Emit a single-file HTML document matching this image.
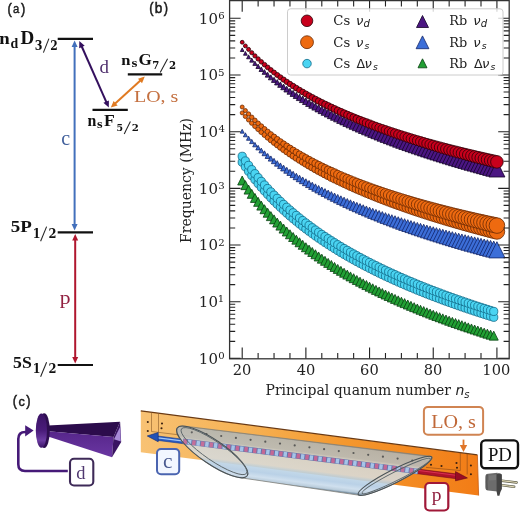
<!DOCTYPE html><html><head><meta charset="utf-8"><style>html,body{margin:0;padding:0;background:#fff;}svg{display:block}</style></head><body>
<svg width="520" height="512" viewBox="0 0 520 512">
<rect width="520" height="512" fill="#fff"/>
<defs><clipPath id="pc"><rect x="229.6" y="0.6" width="279.6" height="358.2"/></clipPath></defs>
<g clip-path="url(#pc)">
<path d="M242.20,47.93L244.00,51.53L240.40,51.53Z" fill="#4b1682" stroke="#140428" stroke-width="0.8"/>
<path d="M245.38,51.48L247.26,55.23L243.51,55.23Z" fill="#4b1682" stroke="#140428" stroke-width="0.8"/>
<path d="M248.57,54.86L250.52,58.77L246.61,58.77Z" fill="#4b1682" stroke="#140428" stroke-width="0.8"/>
<path d="M251.75,58.08L253.78,62.15L249.72,62.15Z" fill="#4b1682" stroke="#140428" stroke-width="0.8"/>
<path d="M254.94,61.16L257.05,65.38L252.83,65.38Z" fill="#4b1682" stroke="#140428" stroke-width="0.8"/>
<path d="M258.12,64.12L260.31,68.49L255.93,68.49Z" fill="#4b1682" stroke="#140428" stroke-width="0.8"/>
<path d="M261.30,66.95L263.57,71.48L259.04,71.48Z" fill="#4b1682" stroke="#140428" stroke-width="0.8"/>
<path d="M264.49,69.68L266.83,74.36L262.15,74.36Z" fill="#4b1682" stroke="#140428" stroke-width="0.8"/>
<path d="M267.67,72.30L270.09,77.14L265.25,77.14Z" fill="#4b1682" stroke="#140428" stroke-width="0.8"/>
<path d="M270.86,74.83L273.35,79.82L268.36,79.82Z" fill="#4b1682" stroke="#140428" stroke-width="0.8"/>
<path d="M274.04,77.27L276.61,82.42L271.46,82.42Z" fill="#4b1682" stroke="#140428" stroke-width="0.8"/>
<path d="M277.22,79.62L279.88,84.93L274.57,84.93Z" fill="#4b1682" stroke="#140428" stroke-width="0.8"/>
<path d="M280.41,81.90L283.14,87.36L277.68,87.36Z" fill="#4b1682" stroke="#140428" stroke-width="0.8"/>
<path d="M283.59,84.11L286.40,89.72L280.78,89.72Z" fill="#4b1682" stroke="#140428" stroke-width="0.8"/>
<path d="M286.78,86.24L289.66,92.01L283.89,92.01Z" fill="#4b1682" stroke="#140428" stroke-width="0.8"/>
<path d="M289.96,88.31L292.92,94.24L287.00,94.24Z" fill="#4b1682" stroke="#140428" stroke-width="0.8"/>
<path d="M293.14,90.33L296.18,96.41L290.10,96.41Z" fill="#4b1682" stroke="#140428" stroke-width="0.8"/>
<path d="M296.33,92.28L299.45,98.52L293.21,98.52Z" fill="#4b1682" stroke="#140428" stroke-width="0.8"/>
<path d="M299.51,94.18L302.71,100.57L296.32,100.57Z" fill="#4b1682" stroke="#140428" stroke-width="0.8"/>
<path d="M302.70,96.03L305.97,102.57L299.42,102.57Z" fill="#4b1682" stroke="#140428" stroke-width="0.8"/>
<path d="M305.88,97.83L309.23,104.53L302.53,104.53Z" fill="#4b1682" stroke="#140428" stroke-width="0.8"/>
<path d="M309.06,99.58L312.49,106.44L305.64,106.44Z" fill="#4b1682" stroke="#140428" stroke-width="0.8"/>
<path d="M312.25,101.29L315.75,108.30L308.74,108.30Z" fill="#4b1682" stroke="#140428" stroke-width="0.8"/>
<path d="M315.43,102.96L319.01,110.12L311.85,110.12Z" fill="#4b1682" stroke="#140428" stroke-width="0.8"/>
<path d="M318.62,104.58L322.28,111.90L314.96,111.90Z" fill="#4b1682" stroke="#140428" stroke-width="0.8"/>
<path d="M321.80,106.17L325.54,113.65L318.06,113.65Z" fill="#4b1682" stroke="#140428" stroke-width="0.8"/>
<path d="M324.98,107.72L328.80,115.35L321.17,115.35Z" fill="#4b1682" stroke="#140428" stroke-width="0.8"/>
<path d="M328.17,109.24L332.06,117.02L324.28,117.02Z" fill="#4b1682" stroke="#140428" stroke-width="0.8"/>
<path d="M331.35,110.72L335.32,118.66L327.38,118.66Z" fill="#4b1682" stroke="#140428" stroke-width="0.8"/>
<path d="M334.54,112.17L338.58,120.27L330.49,120.27Z" fill="#4b1682" stroke="#140428" stroke-width="0.8"/>
<path d="M337.72,113.59L341.85,121.84L333.60,121.84Z" fill="#4b1682" stroke="#140428" stroke-width="0.8"/>
<path d="M340.90,114.98L345.11,123.39L336.70,123.39Z" fill="#4b1682" stroke="#140428" stroke-width="0.8"/>
<path d="M344.09,116.34L348.37,124.90L339.81,124.90Z" fill="#4b1682" stroke="#140428" stroke-width="0.8"/>
<path d="M347.27,117.68L351.63,126.39L342.91,126.39Z" fill="#4b1682" stroke="#140428" stroke-width="0.8"/>
<path d="M350.46,118.98L354.89,127.85L346.02,127.85Z" fill="#4b1682" stroke="#140428" stroke-width="0.8"/>
<path d="M353.64,120.26L358.15,129.29L349.13,129.29Z" fill="#4b1682" stroke="#140428" stroke-width="0.8"/>
<path d="M356.82,121.52L361.41,130.70L352.23,130.70Z" fill="#4b1682" stroke="#140428" stroke-width="0.8"/>
<path d="M360.01,122.75L364.68,132.09L355.34,132.09Z" fill="#4b1682" stroke="#140428" stroke-width="0.8"/>
<path d="M363.19,123.97L367.94,133.46L358.45,133.46Z" fill="#4b1682" stroke="#140428" stroke-width="0.8"/>
<path d="M366.38,125.15L371.20,134.80L361.55,134.80Z" fill="#4b1682" stroke="#140428" stroke-width="0.8"/>
<path d="M369.56,126.32L374.46,136.12L364.66,136.12Z" fill="#4b1682" stroke="#140428" stroke-width="0.8"/>
<path d="M372.74,127.47L377.72,137.42L367.77,137.42Z" fill="#4b1682" stroke="#140428" stroke-width="0.8"/>
<path d="M375.93,128.59L380.98,138.70L370.87,138.70Z" fill="#4b1682" stroke="#140428" stroke-width="0.8"/>
<path d="M379.11,129.70L384.24,139.97L373.98,139.97Z" fill="#4b1682" stroke="#140428" stroke-width="0.8"/>
<path d="M382.30,130.79L387.51,141.21L377.09,141.21Z" fill="#4b1682" stroke="#140428" stroke-width="0.8"/>
<path d="M385.48,131.86L390.77,142.43L380.19,142.43Z" fill="#4b1682" stroke="#140428" stroke-width="0.8"/>
<path d="M388.66,132.91L394.03,143.64L383.30,143.64Z" fill="#4b1682" stroke="#140428" stroke-width="0.8"/>
<path d="M391.85,133.95L397.29,144.83L386.41,144.83Z" fill="#4b1682" stroke="#140428" stroke-width="0.8"/>
<path d="M395.03,134.97L400.55,146.01L389.51,146.01Z" fill="#4b1682" stroke="#140428" stroke-width="0.8"/>
<path d="M398.22,135.97L403.81,147.17L392.62,147.17Z" fill="#4b1682" stroke="#140428" stroke-width="0.8"/>
<path d="M401.40,136.96L407.07,148.31L395.72,148.31Z" fill="#4b1682" stroke="#140428" stroke-width="0.8"/>
<path d="M404.58,137.93L410.34,149.44L398.83,149.44Z" fill="#4b1682" stroke="#140428" stroke-width="0.8"/>
<path d="M407.77,138.89L413.60,150.55L401.94,150.55Z" fill="#4b1682" stroke="#140428" stroke-width="0.8"/>
<path d="M410.95,139.83L416.86,151.65L405.04,151.65Z" fill="#4b1682" stroke="#140428" stroke-width="0.8"/>
<path d="M414.14,140.76L420.12,152.73L408.15,152.73Z" fill="#4b1682" stroke="#140428" stroke-width="0.8"/>
<path d="M417.32,141.68L423.38,153.80L411.26,153.80Z" fill="#4b1682" stroke="#140428" stroke-width="0.8"/>
<path d="M420.50,142.58L426.64,154.86L414.36,154.86Z" fill="#4b1682" stroke="#140428" stroke-width="0.8"/>
<path d="M423.69,143.47L429.91,155.91L417.47,155.91Z" fill="#4b1682" stroke="#140428" stroke-width="0.8"/>
<path d="M426.87,144.35L433.17,156.94L420.58,156.94Z" fill="#4b1682" stroke="#140428" stroke-width="0.8"/>
<path d="M430.06,145.21L436.43,157.96L423.68,157.96Z" fill="#4b1682" stroke="#140428" stroke-width="0.8"/>
<path d="M433.24,146.07L439.69,158.97L426.79,158.97Z" fill="#4b1682" stroke="#140428" stroke-width="0.8"/>
<path d="M436.42,146.91L442.95,159.96L429.90,159.96Z" fill="#4b1682" stroke="#140428" stroke-width="0.8"/>
<path d="M439.61,147.74L446.21,160.95L433.00,160.95Z" fill="#4b1682" stroke="#140428" stroke-width="0.8"/>
<path d="M442.79,148.56L449.47,161.92L436.11,161.92Z" fill="#4b1682" stroke="#140428" stroke-width="0.8"/>
<path d="M445.98,149.37L452.74,162.89L439.22,162.89Z" fill="#4b1682" stroke="#140428" stroke-width="0.8"/>
<path d="M449.16,150.17L456.00,163.84L442.32,163.84Z" fill="#4b1682" stroke="#140428" stroke-width="0.8"/>
<path d="M452.34,150.95L459.26,164.78L445.43,164.78Z" fill="#4b1682" stroke="#140428" stroke-width="0.8"/>
<path d="M455.53,151.73L462.52,165.72L448.54,165.72Z" fill="#4b1682" stroke="#140428" stroke-width="0.8"/>
<path d="M458.71,152.50L465.78,166.64L451.64,166.64Z" fill="#4b1682" stroke="#140428" stroke-width="0.8"/>
<path d="M461.90,153.26L469.04,167.55L454.75,167.55Z" fill="#4b1682" stroke="#140428" stroke-width="0.8"/>
<path d="M465.08,154.01L472.31,168.46L457.86,168.46Z" fill="#4b1682" stroke="#140428" stroke-width="0.8"/>
<path d="M468.26,154.75L475.57,169.35L460.96,169.35Z" fill="#4b1682" stroke="#140428" stroke-width="0.8"/>
<path d="M471.45,155.48L478.83,170.24L464.07,170.24Z" fill="#4b1682" stroke="#140428" stroke-width="0.8"/>
<path d="M474.63,156.20L482.09,171.12L467.17,171.12Z" fill="#4b1682" stroke="#140428" stroke-width="0.8"/>
<path d="M477.82,156.91L485.35,171.98L470.28,171.98Z" fill="#4b1682" stroke="#140428" stroke-width="0.8"/>
<path d="M481.00,157.62L488.61,172.84L473.39,172.84Z" fill="#4b1682" stroke="#140428" stroke-width="0.8"/>
<path d="M484.18,158.32L491.87,173.70L476.49,173.70Z" fill="#4b1682" stroke="#140428" stroke-width="0.8"/>
<path d="M487.37,159.01L495.14,174.54L479.60,174.54Z" fill="#4b1682" stroke="#140428" stroke-width="0.8"/>
<path d="M490.55,159.69L498.40,175.38L482.71,175.38Z" fill="#4b1682" stroke="#140428" stroke-width="0.8"/>
<path d="M493.74,160.36L501.66,176.21L485.81,176.21Z" fill="#4b1682" stroke="#140428" stroke-width="0.8"/>
<path d="M496.92,161.03L504.92,177.03L488.92,177.03Z" fill="#4b1682" stroke="#140428" stroke-width="0.8"/>
<circle cx="242.20" cy="42.25" r="1.90" fill="#c8001c" stroke="#2a0008" stroke-width="0.8"/>
<circle cx="245.38" cy="45.90" r="1.95" fill="#c8001c" stroke="#2a0008" stroke-width="0.8"/>
<circle cx="248.57" cy="49.38" r="2.01" fill="#c8001c" stroke="#2a0008" stroke-width="0.8"/>
<circle cx="251.75" cy="52.70" r="2.06" fill="#c8001c" stroke="#2a0008" stroke-width="0.8"/>
<circle cx="254.94" cy="55.88" r="2.12" fill="#c8001c" stroke="#2a0008" stroke-width="0.8"/>
<circle cx="258.12" cy="58.93" r="2.17" fill="#c8001c" stroke="#2a0008" stroke-width="0.8"/>
<circle cx="261.30" cy="61.85" r="2.23" fill="#c8001c" stroke="#2a0008" stroke-width="0.8"/>
<circle cx="264.49" cy="64.67" r="2.29" fill="#c8001c" stroke="#2a0008" stroke-width="0.8"/>
<circle cx="267.67" cy="67.38" r="2.34" fill="#c8001c" stroke="#2a0008" stroke-width="0.8"/>
<circle cx="270.86" cy="70.00" r="2.40" fill="#c8001c" stroke="#2a0008" stroke-width="0.8"/>
<circle cx="274.04" cy="72.52" r="2.45" fill="#c8001c" stroke="#2a0008" stroke-width="0.8"/>
<circle cx="277.22" cy="74.97" r="2.50" fill="#c8001c" stroke="#2a0008" stroke-width="0.8"/>
<circle cx="280.41" cy="77.33" r="2.56" fill="#c8001c" stroke="#2a0008" stroke-width="0.8"/>
<circle cx="283.59" cy="79.62" r="2.62" fill="#c8001c" stroke="#2a0008" stroke-width="0.8"/>
<circle cx="286.78" cy="81.85" r="2.67" fill="#c8001c" stroke="#2a0008" stroke-width="0.8"/>
<circle cx="289.96" cy="84.00" r="2.73" fill="#c8001c" stroke="#2a0008" stroke-width="0.8"/>
<circle cx="293.14" cy="86.10" r="2.78" fill="#c8001c" stroke="#2a0008" stroke-width="0.8"/>
<circle cx="296.33" cy="88.14" r="2.83" fill="#c8001c" stroke="#2a0008" stroke-width="0.8"/>
<circle cx="299.51" cy="90.12" r="2.89" fill="#c8001c" stroke="#2a0008" stroke-width="0.8"/>
<circle cx="302.70" cy="92.05" r="2.94" fill="#c8001c" stroke="#2a0008" stroke-width="0.8"/>
<circle cx="305.88" cy="93.93" r="3.00" fill="#c8001c" stroke="#2a0008" stroke-width="0.8"/>
<circle cx="309.06" cy="95.77" r="3.06" fill="#c8001c" stroke="#2a0008" stroke-width="0.8"/>
<circle cx="312.25" cy="97.56" r="3.11" fill="#c8001c" stroke="#2a0008" stroke-width="0.8"/>
<circle cx="315.43" cy="99.31" r="3.17" fill="#c8001c" stroke="#2a0008" stroke-width="0.8"/>
<circle cx="318.62" cy="101.02" r="3.22" fill="#c8001c" stroke="#2a0008" stroke-width="0.8"/>
<circle cx="321.80" cy="102.69" r="3.27" fill="#c8001c" stroke="#2a0008" stroke-width="0.8"/>
<circle cx="324.98" cy="104.32" r="3.33" fill="#c8001c" stroke="#2a0008" stroke-width="0.8"/>
<circle cx="328.17" cy="105.92" r="3.39" fill="#c8001c" stroke="#2a0008" stroke-width="0.8"/>
<circle cx="331.35" cy="107.48" r="3.44" fill="#c8001c" stroke="#2a0008" stroke-width="0.8"/>
<circle cx="334.54" cy="109.01" r="3.50" fill="#c8001c" stroke="#2a0008" stroke-width="0.8"/>
<circle cx="337.72" cy="110.51" r="3.55" fill="#c8001c" stroke="#2a0008" stroke-width="0.8"/>
<circle cx="340.90" cy="111.98" r="3.61" fill="#c8001c" stroke="#2a0008" stroke-width="0.8"/>
<circle cx="344.09" cy="113.42" r="3.66" fill="#c8001c" stroke="#2a0008" stroke-width="0.8"/>
<circle cx="347.27" cy="114.83" r="3.71" fill="#c8001c" stroke="#2a0008" stroke-width="0.8"/>
<circle cx="350.46" cy="116.22" r="3.77" fill="#c8001c" stroke="#2a0008" stroke-width="0.8"/>
<circle cx="353.64" cy="117.58" r="3.83" fill="#c8001c" stroke="#2a0008" stroke-width="0.8"/>
<circle cx="356.82" cy="118.92" r="3.88" fill="#c8001c" stroke="#2a0008" stroke-width="0.8"/>
<circle cx="360.01" cy="120.23" r="3.94" fill="#c8001c" stroke="#2a0008" stroke-width="0.8"/>
<circle cx="363.19" cy="121.52" r="3.99" fill="#c8001c" stroke="#2a0008" stroke-width="0.8"/>
<circle cx="366.38" cy="122.79" r="4.04" fill="#c8001c" stroke="#2a0008" stroke-width="0.8"/>
<circle cx="369.56" cy="124.04" r="4.10" fill="#c8001c" stroke="#2a0008" stroke-width="0.8"/>
<circle cx="372.74" cy="125.26" r="4.15" fill="#c8001c" stroke="#2a0008" stroke-width="0.8"/>
<circle cx="375.93" cy="126.47" r="4.21" fill="#c8001c" stroke="#2a0008" stroke-width="0.8"/>
<circle cx="379.11" cy="127.66" r="4.27" fill="#c8001c" stroke="#2a0008" stroke-width="0.8"/>
<circle cx="382.30" cy="128.82" r="4.32" fill="#c8001c" stroke="#2a0008" stroke-width="0.8"/>
<circle cx="385.48" cy="129.97" r="4.38" fill="#c8001c" stroke="#2a0008" stroke-width="0.8"/>
<circle cx="388.66" cy="131.11" r="4.43" fill="#c8001c" stroke="#2a0008" stroke-width="0.8"/>
<circle cx="391.85" cy="132.22" r="4.49" fill="#c8001c" stroke="#2a0008" stroke-width="0.8"/>
<circle cx="395.03" cy="133.32" r="4.54" fill="#c8001c" stroke="#2a0008" stroke-width="0.8"/>
<circle cx="398.22" cy="134.40" r="4.60" fill="#c8001c" stroke="#2a0008" stroke-width="0.8"/>
<circle cx="401.40" cy="135.47" r="4.65" fill="#c8001c" stroke="#2a0008" stroke-width="0.8"/>
<circle cx="404.58" cy="136.52" r="4.71" fill="#c8001c" stroke="#2a0008" stroke-width="0.8"/>
<circle cx="407.77" cy="137.56" r="4.76" fill="#c8001c" stroke="#2a0008" stroke-width="0.8"/>
<circle cx="410.95" cy="138.58" r="4.81" fill="#c8001c" stroke="#2a0008" stroke-width="0.8"/>
<circle cx="414.14" cy="139.59" r="4.87" fill="#c8001c" stroke="#2a0008" stroke-width="0.8"/>
<circle cx="417.32" cy="140.58" r="4.93" fill="#c8001c" stroke="#2a0008" stroke-width="0.8"/>
<circle cx="420.50" cy="141.56" r="4.98" fill="#c8001c" stroke="#2a0008" stroke-width="0.8"/>
<circle cx="423.69" cy="142.53" r="5.04" fill="#c8001c" stroke="#2a0008" stroke-width="0.8"/>
<circle cx="426.87" cy="143.49" r="5.09" fill="#c8001c" stroke="#2a0008" stroke-width="0.8"/>
<circle cx="430.06" cy="144.43" r="5.15" fill="#c8001c" stroke="#2a0008" stroke-width="0.8"/>
<circle cx="433.24" cy="145.36" r="5.20" fill="#c8001c" stroke="#2a0008" stroke-width="0.8"/>
<circle cx="436.42" cy="146.28" r="5.25" fill="#c8001c" stroke="#2a0008" stroke-width="0.8"/>
<circle cx="439.61" cy="147.19" r="5.31" fill="#c8001c" stroke="#2a0008" stroke-width="0.8"/>
<circle cx="442.79" cy="148.09" r="5.37" fill="#c8001c" stroke="#2a0008" stroke-width="0.8"/>
<circle cx="445.98" cy="148.98" r="5.42" fill="#c8001c" stroke="#2a0008" stroke-width="0.8"/>
<circle cx="449.16" cy="149.85" r="5.47" fill="#c8001c" stroke="#2a0008" stroke-width="0.8"/>
<circle cx="452.34" cy="150.72" r="5.53" fill="#c8001c" stroke="#2a0008" stroke-width="0.8"/>
<circle cx="455.53" cy="151.58" r="5.59" fill="#c8001c" stroke="#2a0008" stroke-width="0.8"/>
<circle cx="458.71" cy="152.42" r="5.64" fill="#c8001c" stroke="#2a0008" stroke-width="0.8"/>
<circle cx="461.90" cy="153.26" r="5.70" fill="#c8001c" stroke="#2a0008" stroke-width="0.8"/>
<circle cx="465.08" cy="154.09" r="5.75" fill="#c8001c" stroke="#2a0008" stroke-width="0.8"/>
<circle cx="468.26" cy="154.91" r="5.80" fill="#c8001c" stroke="#2a0008" stroke-width="0.8"/>
<circle cx="471.45" cy="155.72" r="5.86" fill="#c8001c" stroke="#2a0008" stroke-width="0.8"/>
<circle cx="474.63" cy="156.52" r="5.92" fill="#c8001c" stroke="#2a0008" stroke-width="0.8"/>
<circle cx="477.82" cy="157.31" r="5.97" fill="#c8001c" stroke="#2a0008" stroke-width="0.8"/>
<circle cx="481.00" cy="158.09" r="6.03" fill="#c8001c" stroke="#2a0008" stroke-width="0.8"/>
<circle cx="484.18" cy="158.87" r="6.08" fill="#c8001c" stroke="#2a0008" stroke-width="0.8"/>
<circle cx="487.37" cy="159.63" r="6.13" fill="#c8001c" stroke="#2a0008" stroke-width="0.8"/>
<circle cx="490.55" cy="160.39" r="6.19" fill="#c8001c" stroke="#2a0008" stroke-width="0.8"/>
<circle cx="493.74" cy="161.15" r="6.25" fill="#c8001c" stroke="#2a0008" stroke-width="0.8"/>
<circle cx="496.92" cy="161.89" r="6.30" fill="#c8001c" stroke="#2a0008" stroke-width="0.8"/>
<path d="M242.20,129.34L244.10,133.14L240.30,133.14Z" fill="#3c6ed8" stroke="#122468" stroke-width="0.8"/>
<path d="M245.38,132.84L247.36,136.79L243.41,136.79Z" fill="#3c6ed8" stroke="#122468" stroke-width="0.8"/>
<path d="M248.57,136.17L250.62,140.28L246.51,140.28Z" fill="#3c6ed8" stroke="#122468" stroke-width="0.8"/>
<path d="M251.75,139.36L253.88,143.62L249.62,143.62Z" fill="#3c6ed8" stroke="#122468" stroke-width="0.8"/>
<path d="M254.94,142.40L257.15,146.82L252.73,146.82Z" fill="#3c6ed8" stroke="#122468" stroke-width="0.8"/>
<path d="M258.12,145.32L260.41,149.90L255.83,149.90Z" fill="#3c6ed8" stroke="#122468" stroke-width="0.8"/>
<path d="M261.30,148.13L263.67,152.86L258.94,152.86Z" fill="#3c6ed8" stroke="#122468" stroke-width="0.8"/>
<path d="M264.49,150.83L266.93,155.71L262.05,155.71Z" fill="#3c6ed8" stroke="#122468" stroke-width="0.8"/>
<path d="M267.67,153.42L270.19,158.46L265.15,158.46Z" fill="#3c6ed8" stroke="#122468" stroke-width="0.8"/>
<path d="M270.86,155.93L273.45,161.12L268.26,161.12Z" fill="#3c6ed8" stroke="#122468" stroke-width="0.8"/>
<path d="M274.04,158.34L276.71,163.69L271.36,163.69Z" fill="#3c6ed8" stroke="#122468" stroke-width="0.8"/>
<path d="M277.22,160.68L279.98,166.18L274.47,166.18Z" fill="#3c6ed8" stroke="#122468" stroke-width="0.8"/>
<path d="M280.41,162.94L283.24,168.60L277.58,168.60Z" fill="#3c6ed8" stroke="#122468" stroke-width="0.8"/>
<path d="M283.59,165.13L286.50,170.94L280.68,170.94Z" fill="#3c6ed8" stroke="#122468" stroke-width="0.8"/>
<path d="M286.78,167.25L289.76,173.22L283.79,173.22Z" fill="#3c6ed8" stroke="#122468" stroke-width="0.8"/>
<path d="M289.96,169.31L293.02,175.43L286.90,175.43Z" fill="#3c6ed8" stroke="#122468" stroke-width="0.8"/>
<path d="M293.14,171.30L296.28,177.58L290.00,177.58Z" fill="#3c6ed8" stroke="#122468" stroke-width="0.8"/>
<path d="M296.33,173.24L299.55,179.68L293.11,179.68Z" fill="#3c6ed8" stroke="#122468" stroke-width="0.8"/>
<path d="M299.51,175.13L302.81,181.72L296.22,181.72Z" fill="#3c6ed8" stroke="#122468" stroke-width="0.8"/>
<path d="M302.70,176.97L306.07,183.71L299.32,183.71Z" fill="#3c6ed8" stroke="#122468" stroke-width="0.8"/>
<path d="M305.88,178.76L309.33,185.66L302.43,185.66Z" fill="#3c6ed8" stroke="#122468" stroke-width="0.8"/>
<path d="M309.06,180.50L312.59,187.55L305.54,187.55Z" fill="#3c6ed8" stroke="#122468" stroke-width="0.8"/>
<path d="M312.25,182.20L315.85,189.41L308.64,189.41Z" fill="#3c6ed8" stroke="#122468" stroke-width="0.8"/>
<path d="M315.43,183.86L319.11,191.22L311.75,191.22Z" fill="#3c6ed8" stroke="#122468" stroke-width="0.8"/>
<path d="M318.62,185.47L322.38,192.99L314.86,192.99Z" fill="#3c6ed8" stroke="#122468" stroke-width="0.8"/>
<path d="M321.80,187.05L325.64,194.73L317.96,194.73Z" fill="#3c6ed8" stroke="#122468" stroke-width="0.8"/>
<path d="M324.98,188.60L328.90,196.43L321.07,196.43Z" fill="#3c6ed8" stroke="#122468" stroke-width="0.8"/>
<path d="M328.17,190.10L332.16,198.09L324.18,198.09Z" fill="#3c6ed8" stroke="#122468" stroke-width="0.8"/>
<path d="M331.35,191.58L335.42,199.72L327.28,199.72Z" fill="#3c6ed8" stroke="#122468" stroke-width="0.8"/>
<path d="M334.54,193.02L338.68,201.32L330.39,201.32Z" fill="#3c6ed8" stroke="#122468" stroke-width="0.8"/>
<path d="M337.72,194.44L341.95,202.89L333.50,202.89Z" fill="#3c6ed8" stroke="#122468" stroke-width="0.8"/>
<path d="M340.90,195.82L345.21,204.42L336.60,204.42Z" fill="#3c6ed8" stroke="#122468" stroke-width="0.8"/>
<path d="M344.09,197.17L348.47,205.93L339.71,205.93Z" fill="#3c6ed8" stroke="#122468" stroke-width="0.8"/>
<path d="M347.27,198.50L351.73,207.42L342.81,207.42Z" fill="#3c6ed8" stroke="#122468" stroke-width="0.8"/>
<path d="M350.46,199.80L354.99,208.87L345.92,208.87Z" fill="#3c6ed8" stroke="#122468" stroke-width="0.8"/>
<path d="M353.64,201.08L358.25,210.30L349.03,210.30Z" fill="#3c6ed8" stroke="#122468" stroke-width="0.8"/>
<path d="M356.82,202.33L361.51,211.71L352.13,211.71Z" fill="#3c6ed8" stroke="#122468" stroke-width="0.8"/>
<path d="M360.01,203.56L364.78,213.09L355.24,213.09Z" fill="#3c6ed8" stroke="#122468" stroke-width="0.8"/>
<path d="M363.19,204.76L368.04,214.45L358.35,214.45Z" fill="#3c6ed8" stroke="#122468" stroke-width="0.8"/>
<path d="M366.38,205.95L371.30,215.79L361.45,215.79Z" fill="#3c6ed8" stroke="#122468" stroke-width="0.8"/>
<path d="M369.56,207.11L374.56,217.11L364.56,217.11Z" fill="#3c6ed8" stroke="#122468" stroke-width="0.8"/>
<path d="M372.74,208.25L377.82,218.41L367.67,218.41Z" fill="#3c6ed8" stroke="#122468" stroke-width="0.8"/>
<path d="M375.93,209.38L381.08,219.69L370.77,219.69Z" fill="#3c6ed8" stroke="#122468" stroke-width="0.8"/>
<path d="M379.11,210.48L384.34,220.94L373.88,220.94Z" fill="#3c6ed8" stroke="#122468" stroke-width="0.8"/>
<path d="M382.30,211.56L387.61,222.18L376.99,222.18Z" fill="#3c6ed8" stroke="#122468" stroke-width="0.8"/>
<path d="M385.48,212.63L390.87,223.41L380.09,223.41Z" fill="#3c6ed8" stroke="#122468" stroke-width="0.8"/>
<path d="M388.66,213.68L394.13,224.61L383.20,224.61Z" fill="#3c6ed8" stroke="#122468" stroke-width="0.8"/>
<path d="M391.85,214.71L397.39,225.80L386.31,225.80Z" fill="#3c6ed8" stroke="#122468" stroke-width="0.8"/>
<path d="M395.03,215.73L400.65,226.97L389.41,226.97Z" fill="#3c6ed8" stroke="#122468" stroke-width="0.8"/>
<path d="M398.22,216.73L403.91,228.12L392.52,228.12Z" fill="#3c6ed8" stroke="#122468" stroke-width="0.8"/>
<path d="M401.40,217.71L407.17,229.26L395.62,229.26Z" fill="#3c6ed8" stroke="#122468" stroke-width="0.8"/>
<path d="M404.58,218.68L410.44,230.39L398.73,230.39Z" fill="#3c6ed8" stroke="#122468" stroke-width="0.8"/>
<path d="M407.77,219.64L413.70,231.50L401.84,231.50Z" fill="#3c6ed8" stroke="#122468" stroke-width="0.8"/>
<path d="M410.95,220.58L416.96,232.59L404.94,232.59Z" fill="#3c6ed8" stroke="#122468" stroke-width="0.8"/>
<path d="M414.14,221.50L420.22,233.67L408.05,233.67Z" fill="#3c6ed8" stroke="#122468" stroke-width="0.8"/>
<path d="M417.32,222.42L423.48,234.74L411.16,234.74Z" fill="#3c6ed8" stroke="#122468" stroke-width="0.8"/>
<path d="M420.50,223.32L426.74,235.80L414.26,235.80Z" fill="#3c6ed8" stroke="#122468" stroke-width="0.8"/>
<path d="M423.69,224.20L430.01,236.84L417.37,236.84Z" fill="#3c6ed8" stroke="#122468" stroke-width="0.8"/>
<path d="M426.87,225.08L433.27,237.87L420.48,237.87Z" fill="#3c6ed8" stroke="#122468" stroke-width="0.8"/>
<path d="M430.06,225.94L436.53,238.89L423.58,238.89Z" fill="#3c6ed8" stroke="#122468" stroke-width="0.8"/>
<path d="M433.24,226.79L439.79,239.89L426.69,239.89Z" fill="#3c6ed8" stroke="#122468" stroke-width="0.8"/>
<path d="M436.42,227.63L443.05,240.89L429.80,240.89Z" fill="#3c6ed8" stroke="#122468" stroke-width="0.8"/>
<path d="M439.61,228.46L446.31,241.87L432.90,241.87Z" fill="#3c6ed8" stroke="#122468" stroke-width="0.8"/>
<path d="M442.79,229.28L449.57,242.84L436.01,242.84Z" fill="#3c6ed8" stroke="#122468" stroke-width="0.8"/>
<path d="M445.98,230.09L452.84,243.81L439.12,243.81Z" fill="#3c6ed8" stroke="#122468" stroke-width="0.8"/>
<path d="M449.16,230.88L456.10,244.76L442.22,244.76Z" fill="#3c6ed8" stroke="#122468" stroke-width="0.8"/>
<path d="M452.34,231.67L459.36,245.70L445.33,245.70Z" fill="#3c6ed8" stroke="#122468" stroke-width="0.8"/>
<path d="M455.53,232.44L462.62,246.63L448.44,246.63Z" fill="#3c6ed8" stroke="#122468" stroke-width="0.8"/>
<path d="M458.71,233.21L465.88,247.55L451.54,247.55Z" fill="#3c6ed8" stroke="#122468" stroke-width="0.8"/>
<path d="M461.90,233.97L469.14,248.46L454.65,248.46Z" fill="#3c6ed8" stroke="#122468" stroke-width="0.8"/>
<path d="M465.08,234.71L472.41,249.36L457.76,249.36Z" fill="#3c6ed8" stroke="#122468" stroke-width="0.8"/>
<path d="M468.26,235.45L475.67,250.26L460.86,250.26Z" fill="#3c6ed8" stroke="#122468" stroke-width="0.8"/>
<path d="M471.45,236.18L478.93,251.14L463.97,251.14Z" fill="#3c6ed8" stroke="#122468" stroke-width="0.8"/>
<path d="M474.63,236.90L482.19,252.02L467.07,252.02Z" fill="#3c6ed8" stroke="#122468" stroke-width="0.8"/>
<path d="M477.82,237.61L485.45,252.88L470.18,252.88Z" fill="#3c6ed8" stroke="#122468" stroke-width="0.8"/>
<path d="M481.00,238.32L488.71,253.74L473.29,253.74Z" fill="#3c6ed8" stroke="#122468" stroke-width="0.8"/>
<path d="M484.18,239.01L491.97,254.59L476.39,254.59Z" fill="#3c6ed8" stroke="#122468" stroke-width="0.8"/>
<path d="M487.37,239.70L495.24,255.44L479.50,255.44Z" fill="#3c6ed8" stroke="#122468" stroke-width="0.8"/>
<path d="M490.55,240.38L498.50,256.27L482.61,256.27Z" fill="#3c6ed8" stroke="#122468" stroke-width="0.8"/>
<path d="M493.74,241.05L501.76,257.10L485.71,257.10Z" fill="#3c6ed8" stroke="#122468" stroke-width="0.8"/>
<path d="M496.92,241.72L505.02,257.92L488.82,257.92Z" fill="#3c6ed8" stroke="#122468" stroke-width="0.8"/>
<circle cx="242.20" cy="112.90" r="2.00" fill="#ee6a10" stroke="#6a2a04" stroke-width="0.8"/>
<circle cx="245.38" cy="116.47" r="2.07" fill="#ee6a10" stroke="#6a2a04" stroke-width="0.8"/>
<circle cx="248.57" cy="119.88" r="2.15" fill="#ee6a10" stroke="#6a2a04" stroke-width="0.8"/>
<circle cx="251.75" cy="123.14" r="2.22" fill="#ee6a10" stroke="#6a2a04" stroke-width="0.8"/>
<circle cx="254.94" cy="126.27" r="2.29" fill="#ee6a10" stroke="#6a2a04" stroke-width="0.8"/>
<circle cx="258.12" cy="129.26" r="2.36" fill="#ee6a10" stroke="#6a2a04" stroke-width="0.8"/>
<circle cx="261.30" cy="132.15" r="2.44" fill="#ee6a10" stroke="#6a2a04" stroke-width="0.8"/>
<circle cx="264.49" cy="134.92" r="2.51" fill="#ee6a10" stroke="#6a2a04" stroke-width="0.8"/>
<circle cx="267.67" cy="137.59" r="2.58" fill="#ee6a10" stroke="#6a2a04" stroke-width="0.8"/>
<circle cx="270.86" cy="140.17" r="2.65" fill="#ee6a10" stroke="#6a2a04" stroke-width="0.8"/>
<circle cx="274.04" cy="142.67" r="2.73" fill="#ee6a10" stroke="#6a2a04" stroke-width="0.8"/>
<circle cx="277.22" cy="145.08" r="2.80" fill="#ee6a10" stroke="#6a2a04" stroke-width="0.8"/>
<circle cx="280.41" cy="147.42" r="2.87" fill="#ee6a10" stroke="#6a2a04" stroke-width="0.8"/>
<circle cx="283.59" cy="149.68" r="2.94" fill="#ee6a10" stroke="#6a2a04" stroke-width="0.8"/>
<circle cx="286.78" cy="151.88" r="3.01" fill="#ee6a10" stroke="#6a2a04" stroke-width="0.8"/>
<circle cx="289.96" cy="154.02" r="3.09" fill="#ee6a10" stroke="#6a2a04" stroke-width="0.8"/>
<circle cx="293.14" cy="156.09" r="3.16" fill="#ee6a10" stroke="#6a2a04" stroke-width="0.8"/>
<circle cx="296.33" cy="158.11" r="3.23" fill="#ee6a10" stroke="#6a2a04" stroke-width="0.8"/>
<circle cx="299.51" cy="160.08" r="3.30" fill="#ee6a10" stroke="#6a2a04" stroke-width="0.8"/>
<circle cx="302.70" cy="161.99" r="3.38" fill="#ee6a10" stroke="#6a2a04" stroke-width="0.8"/>
<circle cx="305.88" cy="163.86" r="3.45" fill="#ee6a10" stroke="#6a2a04" stroke-width="0.8"/>
<circle cx="309.06" cy="165.68" r="3.52" fill="#ee6a10" stroke="#6a2a04" stroke-width="0.8"/>
<circle cx="312.25" cy="167.45" r="3.59" fill="#ee6a10" stroke="#6a2a04" stroke-width="0.8"/>
<circle cx="315.43" cy="169.19" r="3.67" fill="#ee6a10" stroke="#6a2a04" stroke-width="0.8"/>
<circle cx="318.62" cy="170.88" r="3.74" fill="#ee6a10" stroke="#6a2a04" stroke-width="0.8"/>
<circle cx="321.80" cy="172.54" r="3.81" fill="#ee6a10" stroke="#6a2a04" stroke-width="0.8"/>
<circle cx="324.98" cy="174.16" r="3.88" fill="#ee6a10" stroke="#6a2a04" stroke-width="0.8"/>
<circle cx="328.17" cy="175.75" r="3.96" fill="#ee6a10" stroke="#6a2a04" stroke-width="0.8"/>
<circle cx="331.35" cy="177.30" r="4.03" fill="#ee6a10" stroke="#6a2a04" stroke-width="0.8"/>
<circle cx="334.54" cy="178.82" r="4.10" fill="#ee6a10" stroke="#6a2a04" stroke-width="0.8"/>
<circle cx="337.72" cy="180.31" r="4.17" fill="#ee6a10" stroke="#6a2a04" stroke-width="0.8"/>
<circle cx="340.90" cy="181.77" r="4.25" fill="#ee6a10" stroke="#6a2a04" stroke-width="0.8"/>
<circle cx="344.09" cy="183.20" r="4.32" fill="#ee6a10" stroke="#6a2a04" stroke-width="0.8"/>
<circle cx="347.27" cy="184.61" r="4.39" fill="#ee6a10" stroke="#6a2a04" stroke-width="0.8"/>
<circle cx="350.46" cy="185.99" r="4.46" fill="#ee6a10" stroke="#6a2a04" stroke-width="0.8"/>
<circle cx="353.64" cy="187.34" r="4.54" fill="#ee6a10" stroke="#6a2a04" stroke-width="0.8"/>
<circle cx="356.82" cy="188.67" r="4.61" fill="#ee6a10" stroke="#6a2a04" stroke-width="0.8"/>
<circle cx="360.01" cy="189.98" r="4.68" fill="#ee6a10" stroke="#6a2a04" stroke-width="0.8"/>
<circle cx="363.19" cy="191.26" r="4.75" fill="#ee6a10" stroke="#6a2a04" stroke-width="0.8"/>
<circle cx="366.38" cy="192.52" r="4.83" fill="#ee6a10" stroke="#6a2a04" stroke-width="0.8"/>
<circle cx="369.56" cy="193.76" r="4.90" fill="#ee6a10" stroke="#6a2a04" stroke-width="0.8"/>
<circle cx="372.74" cy="194.98" r="4.97" fill="#ee6a10" stroke="#6a2a04" stroke-width="0.8"/>
<circle cx="375.93" cy="196.18" r="5.04" fill="#ee6a10" stroke="#6a2a04" stroke-width="0.8"/>
<circle cx="379.11" cy="197.36" r="5.12" fill="#ee6a10" stroke="#6a2a04" stroke-width="0.8"/>
<circle cx="382.30" cy="198.52" r="5.19" fill="#ee6a10" stroke="#6a2a04" stroke-width="0.8"/>
<circle cx="385.48" cy="199.67" r="5.26" fill="#ee6a10" stroke="#6a2a04" stroke-width="0.8"/>
<circle cx="388.66" cy="200.79" r="5.33" fill="#ee6a10" stroke="#6a2a04" stroke-width="0.8"/>
<circle cx="391.85" cy="201.90" r="5.41" fill="#ee6a10" stroke="#6a2a04" stroke-width="0.8"/>
<circle cx="395.03" cy="203.00" r="5.48" fill="#ee6a10" stroke="#6a2a04" stroke-width="0.8"/>
<circle cx="398.22" cy="204.08" r="5.55" fill="#ee6a10" stroke="#6a2a04" stroke-width="0.8"/>
<circle cx="401.40" cy="205.14" r="5.62" fill="#ee6a10" stroke="#6a2a04" stroke-width="0.8"/>
<circle cx="404.58" cy="206.18" r="5.70" fill="#ee6a10" stroke="#6a2a04" stroke-width="0.8"/>
<circle cx="407.77" cy="207.22" r="5.77" fill="#ee6a10" stroke="#6a2a04" stroke-width="0.8"/>
<circle cx="410.95" cy="208.24" r="5.84" fill="#ee6a10" stroke="#6a2a04" stroke-width="0.8"/>
<circle cx="414.14" cy="209.24" r="5.92" fill="#ee6a10" stroke="#6a2a04" stroke-width="0.8"/>
<circle cx="417.32" cy="210.23" r="5.99" fill="#ee6a10" stroke="#6a2a04" stroke-width="0.8"/>
<circle cx="420.50" cy="211.21" r="6.06" fill="#ee6a10" stroke="#6a2a04" stroke-width="0.8"/>
<circle cx="423.69" cy="212.17" r="6.13" fill="#ee6a10" stroke="#6a2a04" stroke-width="0.8"/>
<circle cx="426.87" cy="213.13" r="6.21" fill="#ee6a10" stroke="#6a2a04" stroke-width="0.8"/>
<circle cx="430.06" cy="214.07" r="6.28" fill="#ee6a10" stroke="#6a2a04" stroke-width="0.8"/>
<circle cx="433.24" cy="214.99" r="6.35" fill="#ee6a10" stroke="#6a2a04" stroke-width="0.8"/>
<circle cx="436.42" cy="215.91" r="6.42" fill="#ee6a10" stroke="#6a2a04" stroke-width="0.8"/>
<circle cx="439.61" cy="216.82" r="6.50" fill="#ee6a10" stroke="#6a2a04" stroke-width="0.8"/>
<circle cx="442.79" cy="217.71" r="6.57" fill="#ee6a10" stroke="#6a2a04" stroke-width="0.8"/>
<circle cx="445.98" cy="218.60" r="6.64" fill="#ee6a10" stroke="#6a2a04" stroke-width="0.8"/>
<circle cx="449.16" cy="219.47" r="6.71" fill="#ee6a10" stroke="#6a2a04" stroke-width="0.8"/>
<circle cx="452.34" cy="220.33" r="6.78" fill="#ee6a10" stroke="#6a2a04" stroke-width="0.8"/>
<circle cx="455.53" cy="221.19" r="6.86" fill="#ee6a10" stroke="#6a2a04" stroke-width="0.8"/>
<circle cx="458.71" cy="222.03" r="6.93" fill="#ee6a10" stroke="#6a2a04" stroke-width="0.8"/>
<circle cx="461.90" cy="222.86" r="7.00" fill="#ee6a10" stroke="#6a2a04" stroke-width="0.8"/>
<circle cx="465.08" cy="223.69" r="7.08" fill="#ee6a10" stroke="#6a2a04" stroke-width="0.8"/>
<circle cx="468.26" cy="224.51" r="7.15" fill="#ee6a10" stroke="#6a2a04" stroke-width="0.8"/>
<circle cx="471.45" cy="225.31" r="7.22" fill="#ee6a10" stroke="#6a2a04" stroke-width="0.8"/>
<circle cx="474.63" cy="226.11" r="7.29" fill="#ee6a10" stroke="#6a2a04" stroke-width="0.8"/>
<circle cx="477.82" cy="226.90" r="7.37" fill="#ee6a10" stroke="#6a2a04" stroke-width="0.8"/>
<circle cx="481.00" cy="227.68" r="7.44" fill="#ee6a10" stroke="#6a2a04" stroke-width="0.8"/>
<circle cx="484.18" cy="228.45" r="7.51" fill="#ee6a10" stroke="#6a2a04" stroke-width="0.8"/>
<circle cx="487.37" cy="229.22" r="7.58" fill="#ee6a10" stroke="#6a2a04" stroke-width="0.8"/>
<circle cx="490.55" cy="229.98" r="7.65" fill="#ee6a10" stroke="#6a2a04" stroke-width="0.8"/>
<circle cx="493.74" cy="230.73" r="7.73" fill="#ee6a10" stroke="#6a2a04" stroke-width="0.8"/>
<circle cx="496.92" cy="231.47" r="7.80" fill="#ee6a10" stroke="#6a2a04" stroke-width="0.8"/>
<circle cx="242.20" cy="107.02" r="2.00" fill="#ee6a10" stroke="#6a2a04" stroke-width="0.8"/>
<circle cx="245.38" cy="110.59" r="2.07" fill="#ee6a10" stroke="#6a2a04" stroke-width="0.8"/>
<circle cx="248.57" cy="114.00" r="2.15" fill="#ee6a10" stroke="#6a2a04" stroke-width="0.8"/>
<circle cx="251.75" cy="117.26" r="2.22" fill="#ee6a10" stroke="#6a2a04" stroke-width="0.8"/>
<circle cx="254.94" cy="120.38" r="2.29" fill="#ee6a10" stroke="#6a2a04" stroke-width="0.8"/>
<circle cx="258.12" cy="123.38" r="2.36" fill="#ee6a10" stroke="#6a2a04" stroke-width="0.8"/>
<circle cx="261.30" cy="126.26" r="2.44" fill="#ee6a10" stroke="#6a2a04" stroke-width="0.8"/>
<circle cx="264.49" cy="129.04" r="2.51" fill="#ee6a10" stroke="#6a2a04" stroke-width="0.8"/>
<circle cx="267.67" cy="131.71" r="2.58" fill="#ee6a10" stroke="#6a2a04" stroke-width="0.8"/>
<circle cx="270.86" cy="134.29" r="2.65" fill="#ee6a10" stroke="#6a2a04" stroke-width="0.8"/>
<circle cx="274.04" cy="136.78" r="2.73" fill="#ee6a10" stroke="#6a2a04" stroke-width="0.8"/>
<circle cx="277.22" cy="139.20" r="2.80" fill="#ee6a10" stroke="#6a2a04" stroke-width="0.8"/>
<circle cx="280.41" cy="141.53" r="2.87" fill="#ee6a10" stroke="#6a2a04" stroke-width="0.8"/>
<circle cx="283.59" cy="143.80" r="2.94" fill="#ee6a10" stroke="#6a2a04" stroke-width="0.8"/>
<circle cx="286.78" cy="146.00" r="3.01" fill="#ee6a10" stroke="#6a2a04" stroke-width="0.8"/>
<circle cx="289.96" cy="148.13" r="3.09" fill="#ee6a10" stroke="#6a2a04" stroke-width="0.8"/>
<circle cx="293.14" cy="150.21" r="3.16" fill="#ee6a10" stroke="#6a2a04" stroke-width="0.8"/>
<circle cx="296.33" cy="152.23" r="3.23" fill="#ee6a10" stroke="#6a2a04" stroke-width="0.8"/>
<circle cx="299.51" cy="154.19" r="3.30" fill="#ee6a10" stroke="#6a2a04" stroke-width="0.8"/>
<circle cx="302.70" cy="156.11" r="3.38" fill="#ee6a10" stroke="#6a2a04" stroke-width="0.8"/>
<circle cx="305.88" cy="157.97" r="3.45" fill="#ee6a10" stroke="#6a2a04" stroke-width="0.8"/>
<circle cx="309.06" cy="159.79" r="3.52" fill="#ee6a10" stroke="#6a2a04" stroke-width="0.8"/>
<circle cx="312.25" cy="161.57" r="3.59" fill="#ee6a10" stroke="#6a2a04" stroke-width="0.8"/>
<circle cx="315.43" cy="163.30" r="3.67" fill="#ee6a10" stroke="#6a2a04" stroke-width="0.8"/>
<circle cx="318.62" cy="165.00" r="3.74" fill="#ee6a10" stroke="#6a2a04" stroke-width="0.8"/>
<circle cx="321.80" cy="166.66" r="3.81" fill="#ee6a10" stroke="#6a2a04" stroke-width="0.8"/>
<circle cx="324.98" cy="168.28" r="3.88" fill="#ee6a10" stroke="#6a2a04" stroke-width="0.8"/>
<circle cx="328.17" cy="169.86" r="3.96" fill="#ee6a10" stroke="#6a2a04" stroke-width="0.8"/>
<circle cx="331.35" cy="171.41" r="4.03" fill="#ee6a10" stroke="#6a2a04" stroke-width="0.8"/>
<circle cx="334.54" cy="172.94" r="4.10" fill="#ee6a10" stroke="#6a2a04" stroke-width="0.8"/>
<circle cx="337.72" cy="174.43" r="4.17" fill="#ee6a10" stroke="#6a2a04" stroke-width="0.8"/>
<circle cx="340.90" cy="175.89" r="4.25" fill="#ee6a10" stroke="#6a2a04" stroke-width="0.8"/>
<circle cx="344.09" cy="177.32" r="4.32" fill="#ee6a10" stroke="#6a2a04" stroke-width="0.8"/>
<circle cx="347.27" cy="178.72" r="4.39" fill="#ee6a10" stroke="#6a2a04" stroke-width="0.8"/>
<circle cx="350.46" cy="180.10" r="4.46" fill="#ee6a10" stroke="#6a2a04" stroke-width="0.8"/>
<circle cx="353.64" cy="181.46" r="4.54" fill="#ee6a10" stroke="#6a2a04" stroke-width="0.8"/>
<circle cx="356.82" cy="182.79" r="4.61" fill="#ee6a10" stroke="#6a2a04" stroke-width="0.8"/>
<circle cx="360.01" cy="184.09" r="4.68" fill="#ee6a10" stroke="#6a2a04" stroke-width="0.8"/>
<circle cx="363.19" cy="185.38" r="4.75" fill="#ee6a10" stroke="#6a2a04" stroke-width="0.8"/>
<circle cx="366.38" cy="186.64" r="4.83" fill="#ee6a10" stroke="#6a2a04" stroke-width="0.8"/>
<circle cx="369.56" cy="187.88" r="4.90" fill="#ee6a10" stroke="#6a2a04" stroke-width="0.8"/>
<circle cx="372.74" cy="189.10" r="4.97" fill="#ee6a10" stroke="#6a2a04" stroke-width="0.8"/>
<circle cx="375.93" cy="190.30" r="5.04" fill="#ee6a10" stroke="#6a2a04" stroke-width="0.8"/>
<circle cx="379.11" cy="191.48" r="5.12" fill="#ee6a10" stroke="#6a2a04" stroke-width="0.8"/>
<circle cx="382.30" cy="192.64" r="5.19" fill="#ee6a10" stroke="#6a2a04" stroke-width="0.8"/>
<circle cx="385.48" cy="193.78" r="5.26" fill="#ee6a10" stroke="#6a2a04" stroke-width="0.8"/>
<circle cx="388.66" cy="194.91" r="5.33" fill="#ee6a10" stroke="#6a2a04" stroke-width="0.8"/>
<circle cx="391.85" cy="196.02" r="5.41" fill="#ee6a10" stroke="#6a2a04" stroke-width="0.8"/>
<circle cx="395.03" cy="197.11" r="5.48" fill="#ee6a10" stroke="#6a2a04" stroke-width="0.8"/>
<circle cx="398.22" cy="198.19" r="5.55" fill="#ee6a10" stroke="#6a2a04" stroke-width="0.8"/>
<circle cx="401.40" cy="199.25" r="5.62" fill="#ee6a10" stroke="#6a2a04" stroke-width="0.8"/>
<circle cx="404.58" cy="200.30" r="5.70" fill="#ee6a10" stroke="#6a2a04" stroke-width="0.8"/>
<circle cx="407.77" cy="201.33" r="5.77" fill="#ee6a10" stroke="#6a2a04" stroke-width="0.8"/>
<circle cx="410.95" cy="202.35" r="5.84" fill="#ee6a10" stroke="#6a2a04" stroke-width="0.8"/>
<circle cx="414.14" cy="203.36" r="5.92" fill="#ee6a10" stroke="#6a2a04" stroke-width="0.8"/>
<circle cx="417.32" cy="204.35" r="5.99" fill="#ee6a10" stroke="#6a2a04" stroke-width="0.8"/>
<circle cx="420.50" cy="205.32" r="6.06" fill="#ee6a10" stroke="#6a2a04" stroke-width="0.8"/>
<circle cx="423.69" cy="206.29" r="6.13" fill="#ee6a10" stroke="#6a2a04" stroke-width="0.8"/>
<circle cx="426.87" cy="207.24" r="6.21" fill="#ee6a10" stroke="#6a2a04" stroke-width="0.8"/>
<circle cx="430.06" cy="208.18" r="6.28" fill="#ee6a10" stroke="#6a2a04" stroke-width="0.8"/>
<circle cx="433.24" cy="209.11" r="6.35" fill="#ee6a10" stroke="#6a2a04" stroke-width="0.8"/>
<circle cx="436.42" cy="210.03" r="6.42" fill="#ee6a10" stroke="#6a2a04" stroke-width="0.8"/>
<circle cx="439.61" cy="210.93" r="6.50" fill="#ee6a10" stroke="#6a2a04" stroke-width="0.8"/>
<circle cx="442.79" cy="211.83" r="6.57" fill="#ee6a10" stroke="#6a2a04" stroke-width="0.8"/>
<circle cx="445.98" cy="212.71" r="6.64" fill="#ee6a10" stroke="#6a2a04" stroke-width="0.8"/>
<circle cx="449.16" cy="213.59" r="6.71" fill="#ee6a10" stroke="#6a2a04" stroke-width="0.8"/>
<circle cx="452.34" cy="214.45" r="6.78" fill="#ee6a10" stroke="#6a2a04" stroke-width="0.8"/>
<circle cx="455.53" cy="215.30" r="6.86" fill="#ee6a10" stroke="#6a2a04" stroke-width="0.8"/>
<circle cx="458.71" cy="216.15" r="6.93" fill="#ee6a10" stroke="#6a2a04" stroke-width="0.8"/>
<circle cx="461.90" cy="216.98" r="7.00" fill="#ee6a10" stroke="#6a2a04" stroke-width="0.8"/>
<circle cx="465.08" cy="217.81" r="7.08" fill="#ee6a10" stroke="#6a2a04" stroke-width="0.8"/>
<circle cx="468.26" cy="218.62" r="7.15" fill="#ee6a10" stroke="#6a2a04" stroke-width="0.8"/>
<circle cx="471.45" cy="219.43" r="7.22" fill="#ee6a10" stroke="#6a2a04" stroke-width="0.8"/>
<circle cx="474.63" cy="220.23" r="7.29" fill="#ee6a10" stroke="#6a2a04" stroke-width="0.8"/>
<circle cx="477.82" cy="221.02" r="7.37" fill="#ee6a10" stroke="#6a2a04" stroke-width="0.8"/>
<circle cx="481.00" cy="221.80" r="7.44" fill="#ee6a10" stroke="#6a2a04" stroke-width="0.8"/>
<circle cx="484.18" cy="222.57" r="7.51" fill="#ee6a10" stroke="#6a2a04" stroke-width="0.8"/>
<circle cx="487.37" cy="223.34" r="7.58" fill="#ee6a10" stroke="#6a2a04" stroke-width="0.8"/>
<circle cx="490.55" cy="224.09" r="7.65" fill="#ee6a10" stroke="#6a2a04" stroke-width="0.8"/>
<circle cx="493.74" cy="224.84" r="7.73" fill="#ee6a10" stroke="#6a2a04" stroke-width="0.8"/>
<circle cx="496.92" cy="225.59" r="7.80" fill="#ee6a10" stroke="#6a2a04" stroke-width="0.8"/>
<path d="M242.20,176.00L246.70,185.00L237.70,185.00Z" fill="#22a034" stroke="#084010" stroke-width="0.8"/>
<path d="M245.38,180.65L249.88,189.65L240.88,189.65Z" fill="#22a034" stroke="#084010" stroke-width="0.8"/>
<path d="M248.57,185.10L253.07,194.10L244.07,194.10Z" fill="#22a034" stroke="#084010" stroke-width="0.8"/>
<path d="M251.75,189.35L256.25,198.35L247.25,198.35Z" fill="#22a034" stroke="#084010" stroke-width="0.8"/>
<path d="M254.94,193.42L259.44,202.42L250.44,202.42Z" fill="#22a034" stroke="#084010" stroke-width="0.8"/>
<path d="M258.12,197.34L262.62,206.34L253.62,206.34Z" fill="#22a034" stroke="#084010" stroke-width="0.8"/>
<path d="M261.30,201.10L265.80,210.10L256.80,210.10Z" fill="#22a034" stroke="#084010" stroke-width="0.8"/>
<path d="M264.49,204.73L268.99,213.73L259.99,213.73Z" fill="#22a034" stroke="#084010" stroke-width="0.8"/>
<path d="M267.67,208.23L272.17,217.23L263.17,217.23Z" fill="#22a034" stroke="#084010" stroke-width="0.8"/>
<path d="M270.86,211.61L275.36,220.61L266.36,220.61Z" fill="#22a034" stroke="#084010" stroke-width="0.8"/>
<path d="M274.04,214.88L278.54,223.88L269.54,223.88Z" fill="#22a034" stroke="#084010" stroke-width="0.8"/>
<path d="M277.22,218.05L281.72,227.05L272.72,227.05Z" fill="#22a034" stroke="#084010" stroke-width="0.8"/>
<path d="M280.41,221.11L284.91,230.11L275.91,230.11Z" fill="#22a034" stroke="#084010" stroke-width="0.8"/>
<path d="M283.59,224.09L288.09,233.09L279.09,233.09Z" fill="#22a034" stroke="#084010" stroke-width="0.8"/>
<path d="M286.78,226.98L291.28,235.98L282.28,235.98Z" fill="#22a034" stroke="#084010" stroke-width="0.8"/>
<path d="M289.96,229.78L294.46,238.78L285.46,238.78Z" fill="#22a034" stroke="#084010" stroke-width="0.8"/>
<path d="M293.14,232.51L297.64,241.51L288.64,241.51Z" fill="#22a034" stroke="#084010" stroke-width="0.8"/>
<path d="M296.33,235.16L300.83,244.16L291.83,244.16Z" fill="#22a034" stroke="#084010" stroke-width="0.8"/>
<path d="M299.51,237.75L304.01,246.75L295.01,246.75Z" fill="#22a034" stroke="#084010" stroke-width="0.8"/>
<path d="M302.70,240.27L307.20,249.27L298.20,249.27Z" fill="#22a034" stroke="#084010" stroke-width="0.8"/>
<path d="M305.88,242.72L310.38,251.72L301.38,251.72Z" fill="#22a034" stroke="#084010" stroke-width="0.8"/>
<path d="M309.06,245.12L313.56,254.12L304.56,254.12Z" fill="#22a034" stroke="#084010" stroke-width="0.8"/>
<path d="M312.25,247.46L316.75,256.46L307.75,256.46Z" fill="#22a034" stroke="#084010" stroke-width="0.8"/>
<path d="M315.43,249.75L319.93,258.75L310.93,258.75Z" fill="#22a034" stroke="#084010" stroke-width="0.8"/>
<path d="M318.62,251.98L323.12,260.98L314.12,260.98Z" fill="#22a034" stroke="#084010" stroke-width="0.8"/>
<path d="M321.80,254.16L326.30,263.16L317.30,263.16Z" fill="#22a034" stroke="#084010" stroke-width="0.8"/>
<path d="M324.98,256.30L329.48,265.30L320.48,265.30Z" fill="#22a034" stroke="#084010" stroke-width="0.8"/>
<path d="M328.17,258.39L332.67,267.39L323.67,267.39Z" fill="#22a034" stroke="#084010" stroke-width="0.8"/>
<path d="M331.35,260.44L335.85,269.44L326.85,269.44Z" fill="#22a034" stroke="#084010" stroke-width="0.8"/>
<path d="M334.54,262.45L339.04,271.45L330.04,271.45Z" fill="#22a034" stroke="#084010" stroke-width="0.8"/>
<path d="M337.72,264.41L342.22,273.41L333.22,273.41Z" fill="#22a034" stroke="#084010" stroke-width="0.8"/>
<path d="M340.90,266.34L345.40,275.34L336.40,275.34Z" fill="#22a034" stroke="#084010" stroke-width="0.8"/>
<path d="M344.09,268.23L348.59,277.23L339.59,277.23Z" fill="#22a034" stroke="#084010" stroke-width="0.8"/>
<path d="M347.27,270.09L351.77,279.09L342.77,279.09Z" fill="#22a034" stroke="#084010" stroke-width="0.8"/>
<path d="M350.46,271.91L354.96,280.91L345.96,280.91Z" fill="#22a034" stroke="#084010" stroke-width="0.8"/>
<path d="M353.64,273.70L358.14,282.70L349.14,282.70Z" fill="#22a034" stroke="#084010" stroke-width="0.8"/>
<path d="M356.82,275.46L361.32,284.46L352.32,284.46Z" fill="#22a034" stroke="#084010" stroke-width="0.8"/>
<path d="M360.01,277.18L364.51,286.18L355.51,286.18Z" fill="#22a034" stroke="#084010" stroke-width="0.8"/>
<path d="M363.19,278.88L367.69,287.88L358.69,287.88Z" fill="#22a034" stroke="#084010" stroke-width="0.8"/>
<path d="M366.38,280.54L370.88,289.54L361.88,289.54Z" fill="#22a034" stroke="#084010" stroke-width="0.8"/>
<path d="M369.56,282.18L374.06,291.18L365.06,291.18Z" fill="#22a034" stroke="#084010" stroke-width="0.8"/>
<path d="M372.74,283.80L377.24,292.80L368.24,292.80Z" fill="#22a034" stroke="#084010" stroke-width="0.8"/>
<path d="M375.93,285.38L380.43,294.38L371.43,294.38Z" fill="#22a034" stroke="#084010" stroke-width="0.8"/>
<path d="M379.11,286.95L383.61,295.95L374.61,295.95Z" fill="#22a034" stroke="#084010" stroke-width="0.8"/>
<path d="M382.30,288.48L386.80,297.48L377.80,297.48Z" fill="#22a034" stroke="#084010" stroke-width="0.8"/>
<path d="M385.48,290.00L389.98,299.00L380.98,299.00Z" fill="#22a034" stroke="#084010" stroke-width="0.8"/>
<path d="M388.66,291.49L393.16,300.49L384.16,300.49Z" fill="#22a034" stroke="#084010" stroke-width="0.8"/>
<path d="M391.85,292.96L396.35,301.96L387.35,301.96Z" fill="#22a034" stroke="#084010" stroke-width="0.8"/>
<path d="M395.03,294.40L399.53,303.40L390.53,303.40Z" fill="#22a034" stroke="#084010" stroke-width="0.8"/>
<path d="M398.22,295.83L402.72,304.83L393.72,304.83Z" fill="#22a034" stroke="#084010" stroke-width="0.8"/>
<path d="M401.40,297.23L405.90,306.23L396.90,306.23Z" fill="#22a034" stroke="#084010" stroke-width="0.8"/>
<path d="M404.58,298.62L409.08,307.62L400.08,307.62Z" fill="#22a034" stroke="#084010" stroke-width="0.8"/>
<path d="M407.77,299.99L412.27,308.99L403.27,308.99Z" fill="#22a034" stroke="#084010" stroke-width="0.8"/>
<path d="M410.95,301.33L415.45,310.33L406.45,310.33Z" fill="#22a034" stroke="#084010" stroke-width="0.8"/>
<path d="M414.14,302.66L418.64,311.66L409.64,311.66Z" fill="#22a034" stroke="#084010" stroke-width="0.8"/>
<path d="M417.32,303.98L421.82,312.98L412.82,312.98Z" fill="#22a034" stroke="#084010" stroke-width="0.8"/>
<path d="M420.50,305.27L425.00,314.27L416.00,314.27Z" fill="#22a034" stroke="#084010" stroke-width="0.8"/>
<path d="M423.69,306.55L428.19,315.55L419.19,315.55Z" fill="#22a034" stroke="#084010" stroke-width="0.8"/>
<path d="M426.87,307.81L431.37,316.81L422.37,316.81Z" fill="#22a034" stroke="#084010" stroke-width="0.8"/>
<path d="M430.06,309.06L434.56,318.06L425.56,318.06Z" fill="#22a034" stroke="#084010" stroke-width="0.8"/>
<path d="M433.24,310.29L437.74,319.29L428.74,319.29Z" fill="#22a034" stroke="#084010" stroke-width="0.8"/>
<path d="M436.42,311.50L440.92,320.50L431.92,320.50Z" fill="#22a034" stroke="#084010" stroke-width="0.8"/>
<path d="M439.61,312.70L444.11,321.70L435.11,321.70Z" fill="#22a034" stroke="#084010" stroke-width="0.8"/>
<path d="M442.79,313.89L447.29,322.89L438.29,322.89Z" fill="#22a034" stroke="#084010" stroke-width="0.8"/>
<path d="M445.98,315.06L450.48,324.06L441.48,324.06Z" fill="#22a034" stroke="#084010" stroke-width="0.8"/>
<path d="M449.16,316.22L453.66,325.22L444.66,325.22Z" fill="#22a034" stroke="#084010" stroke-width="0.8"/>
<path d="M452.34,317.36L456.84,326.36L447.84,326.36Z" fill="#22a034" stroke="#084010" stroke-width="0.8"/>
<path d="M455.53,318.49L460.03,327.49L451.03,327.49Z" fill="#22a034" stroke="#084010" stroke-width="0.8"/>
<path d="M458.71,319.61L463.21,328.61L454.21,328.61Z" fill="#22a034" stroke="#084010" stroke-width="0.8"/>
<path d="M461.90,320.72L466.40,329.72L457.40,329.72Z" fill="#22a034" stroke="#084010" stroke-width="0.8"/>
<path d="M465.08,321.81L469.58,330.81L460.58,330.81Z" fill="#22a034" stroke="#084010" stroke-width="0.8"/>
<path d="M468.26,322.89L472.76,331.89L463.76,331.89Z" fill="#22a034" stroke="#084010" stroke-width="0.8"/>
<path d="M471.45,323.96L475.95,332.96L466.95,332.96Z" fill="#22a034" stroke="#084010" stroke-width="0.8"/>
<path d="M474.63,325.02L479.13,334.02L470.13,334.02Z" fill="#22a034" stroke="#084010" stroke-width="0.8"/>
<path d="M477.82,326.07L482.32,335.07L473.32,335.07Z" fill="#22a034" stroke="#084010" stroke-width="0.8"/>
<path d="M481.00,327.11L485.50,336.11L476.50,336.11Z" fill="#22a034" stroke="#084010" stroke-width="0.8"/>
<path d="M484.18,328.13L488.68,337.13L479.68,337.13Z" fill="#22a034" stroke="#084010" stroke-width="0.8"/>
<path d="M487.37,329.15L491.87,338.15L482.87,338.15Z" fill="#22a034" stroke="#084010" stroke-width="0.8"/>
<path d="M490.55,330.15L495.05,339.15L486.05,339.15Z" fill="#22a034" stroke="#084010" stroke-width="0.8"/>
<path d="M493.74,331.14L498.24,340.14L489.24,340.14Z" fill="#22a034" stroke="#084010" stroke-width="0.8"/>
<circle cx="242.20" cy="162.18" r="4.10" fill="#4ad4f2" stroke="#126a88" stroke-width="0.8"/>
<circle cx="245.38" cy="166.82" r="4.10" fill="#4ad4f2" stroke="#126a88" stroke-width="0.8"/>
<circle cx="248.57" cy="171.26" r="4.10" fill="#4ad4f2" stroke="#126a88" stroke-width="0.8"/>
<circle cx="251.75" cy="175.51" r="4.10" fill="#4ad4f2" stroke="#126a88" stroke-width="0.8"/>
<circle cx="254.94" cy="179.58" r="4.10" fill="#4ad4f2" stroke="#126a88" stroke-width="0.8"/>
<circle cx="258.12" cy="183.50" r="4.10" fill="#4ad4f2" stroke="#126a88" stroke-width="0.8"/>
<circle cx="261.30" cy="187.26" r="4.10" fill="#4ad4f2" stroke="#126a88" stroke-width="0.8"/>
<circle cx="264.49" cy="190.89" r="4.10" fill="#4ad4f2" stroke="#126a88" stroke-width="0.8"/>
<circle cx="267.67" cy="194.39" r="4.10" fill="#4ad4f2" stroke="#126a88" stroke-width="0.8"/>
<circle cx="270.86" cy="197.77" r="4.10" fill="#4ad4f2" stroke="#126a88" stroke-width="0.8"/>
<circle cx="274.04" cy="201.04" r="4.10" fill="#4ad4f2" stroke="#126a88" stroke-width="0.8"/>
<circle cx="277.22" cy="204.20" r="4.10" fill="#4ad4f2" stroke="#126a88" stroke-width="0.8"/>
<circle cx="280.41" cy="207.27" r="4.10" fill="#4ad4f2" stroke="#126a88" stroke-width="0.8"/>
<circle cx="283.59" cy="210.24" r="4.10" fill="#4ad4f2" stroke="#126a88" stroke-width="0.8"/>
<circle cx="286.78" cy="213.13" r="4.10" fill="#4ad4f2" stroke="#126a88" stroke-width="0.8"/>
<circle cx="289.96" cy="215.93" r="4.10" fill="#4ad4f2" stroke="#126a88" stroke-width="0.8"/>
<circle cx="293.14" cy="218.66" r="4.10" fill="#4ad4f2" stroke="#126a88" stroke-width="0.8"/>
<circle cx="296.33" cy="221.31" r="4.10" fill="#4ad4f2" stroke="#126a88" stroke-width="0.8"/>
<circle cx="299.51" cy="223.90" r="4.10" fill="#4ad4f2" stroke="#126a88" stroke-width="0.8"/>
<circle cx="302.70" cy="226.42" r="4.10" fill="#4ad4f2" stroke="#126a88" stroke-width="0.8"/>
<circle cx="305.88" cy="228.87" r="4.10" fill="#4ad4f2" stroke="#126a88" stroke-width="0.8"/>
<circle cx="309.06" cy="231.27" r="4.10" fill="#4ad4f2" stroke="#126a88" stroke-width="0.8"/>
<circle cx="312.25" cy="233.61" r="4.10" fill="#4ad4f2" stroke="#126a88" stroke-width="0.8"/>
<circle cx="315.43" cy="235.89" r="4.10" fill="#4ad4f2" stroke="#126a88" stroke-width="0.8"/>
<circle cx="318.62" cy="238.13" r="4.10" fill="#4ad4f2" stroke="#126a88" stroke-width="0.8"/>
<circle cx="321.80" cy="240.31" r="4.10" fill="#4ad4f2" stroke="#126a88" stroke-width="0.8"/>
<circle cx="324.98" cy="242.45" r="4.10" fill="#4ad4f2" stroke="#126a88" stroke-width="0.8"/>
<circle cx="328.17" cy="244.54" r="4.10" fill="#4ad4f2" stroke="#126a88" stroke-width="0.8"/>
<circle cx="331.35" cy="246.59" r="4.10" fill="#4ad4f2" stroke="#126a88" stroke-width="0.8"/>
<circle cx="334.54" cy="248.60" r="4.10" fill="#4ad4f2" stroke="#126a88" stroke-width="0.8"/>
<circle cx="337.72" cy="250.56" r="4.10" fill="#4ad4f2" stroke="#126a88" stroke-width="0.8"/>
<circle cx="340.90" cy="252.49" r="4.10" fill="#4ad4f2" stroke="#126a88" stroke-width="0.8"/>
<circle cx="344.09" cy="254.38" r="4.10" fill="#4ad4f2" stroke="#126a88" stroke-width="0.8"/>
<circle cx="347.27" cy="256.24" r="4.10" fill="#4ad4f2" stroke="#126a88" stroke-width="0.8"/>
<circle cx="350.46" cy="258.06" r="4.10" fill="#4ad4f2" stroke="#126a88" stroke-width="0.8"/>
<circle cx="353.64" cy="259.85" r="4.10" fill="#4ad4f2" stroke="#126a88" stroke-width="0.8"/>
<circle cx="356.82" cy="261.60" r="4.10" fill="#4ad4f2" stroke="#126a88" stroke-width="0.8"/>
<circle cx="360.01" cy="263.33" r="4.10" fill="#4ad4f2" stroke="#126a88" stroke-width="0.8"/>
<circle cx="363.19" cy="265.03" r="4.10" fill="#4ad4f2" stroke="#126a88" stroke-width="0.8"/>
<circle cx="366.38" cy="266.69" r="4.10" fill="#4ad4f2" stroke="#126a88" stroke-width="0.8"/>
<circle cx="369.56" cy="268.33" r="4.10" fill="#4ad4f2" stroke="#126a88" stroke-width="0.8"/>
<circle cx="372.74" cy="269.94" r="4.10" fill="#4ad4f2" stroke="#126a88" stroke-width="0.8"/>
<circle cx="375.93" cy="271.53" r="4.10" fill="#4ad4f2" stroke="#126a88" stroke-width="0.8"/>
<circle cx="379.11" cy="273.09" r="4.10" fill="#4ad4f2" stroke="#126a88" stroke-width="0.8"/>
<circle cx="382.30" cy="274.63" r="4.10" fill="#4ad4f2" stroke="#126a88" stroke-width="0.8"/>
<circle cx="385.48" cy="276.14" r="4.10" fill="#4ad4f2" stroke="#126a88" stroke-width="0.8"/>
<circle cx="388.66" cy="277.64" r="4.10" fill="#4ad4f2" stroke="#126a88" stroke-width="0.8"/>
<circle cx="391.85" cy="279.10" r="4.10" fill="#4ad4f2" stroke="#126a88" stroke-width="0.8"/>
<circle cx="395.03" cy="280.55" r="4.10" fill="#4ad4f2" stroke="#126a88" stroke-width="0.8"/>
<circle cx="398.22" cy="281.98" r="4.10" fill="#4ad4f2" stroke="#126a88" stroke-width="0.8"/>
<circle cx="401.40" cy="283.38" r="4.10" fill="#4ad4f2" stroke="#126a88" stroke-width="0.8"/>
<circle cx="404.58" cy="284.77" r="4.10" fill="#4ad4f2" stroke="#126a88" stroke-width="0.8"/>
<circle cx="407.77" cy="286.14" r="4.10" fill="#4ad4f2" stroke="#126a88" stroke-width="0.8"/>
<circle cx="410.95" cy="287.48" r="4.10" fill="#4ad4f2" stroke="#126a88" stroke-width="0.8"/>
<circle cx="414.14" cy="288.81" r="4.10" fill="#4ad4f2" stroke="#126a88" stroke-width="0.8"/>
<circle cx="417.32" cy="290.13" r="4.10" fill="#4ad4f2" stroke="#126a88" stroke-width="0.8"/>
<circle cx="420.50" cy="291.42" r="4.10" fill="#4ad4f2" stroke="#126a88" stroke-width="0.8"/>
<circle cx="423.69" cy="292.70" r="4.10" fill="#4ad4f2" stroke="#126a88" stroke-width="0.8"/>
<circle cx="426.87" cy="293.96" r="4.10" fill="#4ad4f2" stroke="#126a88" stroke-width="0.8"/>
<circle cx="430.06" cy="295.21" r="4.10" fill="#4ad4f2" stroke="#126a88" stroke-width="0.8"/>
<circle cx="433.24" cy="296.44" r="4.10" fill="#4ad4f2" stroke="#126a88" stroke-width="0.8"/>
<circle cx="436.42" cy="297.65" r="4.10" fill="#4ad4f2" stroke="#126a88" stroke-width="0.8"/>
<circle cx="439.61" cy="298.85" r="4.10" fill="#4ad4f2" stroke="#126a88" stroke-width="0.8"/>
<circle cx="442.79" cy="300.04" r="4.10" fill="#4ad4f2" stroke="#126a88" stroke-width="0.8"/>
<circle cx="445.98" cy="301.21" r="4.10" fill="#4ad4f2" stroke="#126a88" stroke-width="0.8"/>
<circle cx="449.16" cy="302.37" r="4.10" fill="#4ad4f2" stroke="#126a88" stroke-width="0.8"/>
<circle cx="452.34" cy="303.51" r="4.10" fill="#4ad4f2" stroke="#126a88" stroke-width="0.8"/>
<circle cx="455.53" cy="304.64" r="4.10" fill="#4ad4f2" stroke="#126a88" stroke-width="0.8"/>
<circle cx="458.71" cy="305.76" r="4.10" fill="#4ad4f2" stroke="#126a88" stroke-width="0.8"/>
<circle cx="461.90" cy="306.87" r="4.10" fill="#4ad4f2" stroke="#126a88" stroke-width="0.8"/>
<circle cx="465.08" cy="307.96" r="4.10" fill="#4ad4f2" stroke="#126a88" stroke-width="0.8"/>
<circle cx="468.26" cy="309.04" r="4.10" fill="#4ad4f2" stroke="#126a88" stroke-width="0.8"/>
<circle cx="471.45" cy="310.11" r="4.10" fill="#4ad4f2" stroke="#126a88" stroke-width="0.8"/>
<circle cx="474.63" cy="311.17" r="4.10" fill="#4ad4f2" stroke="#126a88" stroke-width="0.8"/>
<circle cx="477.82" cy="312.22" r="4.10" fill="#4ad4f2" stroke="#126a88" stroke-width="0.8"/>
<circle cx="481.00" cy="313.26" r="4.10" fill="#4ad4f2" stroke="#126a88" stroke-width="0.8"/>
<circle cx="484.18" cy="314.28" r="4.10" fill="#4ad4f2" stroke="#126a88" stroke-width="0.8"/>
<circle cx="487.37" cy="315.30" r="4.10" fill="#4ad4f2" stroke="#126a88" stroke-width="0.8"/>
<circle cx="490.55" cy="316.30" r="4.10" fill="#4ad4f2" stroke="#126a88" stroke-width="0.8"/>
<circle cx="493.74" cy="317.29" r="4.10" fill="#4ad4f2" stroke="#126a88" stroke-width="0.8"/>
<circle cx="242.20" cy="156.29" r="4.10" fill="#4ad4f2" stroke="#126a88" stroke-width="0.8"/>
<circle cx="245.38" cy="160.94" r="4.10" fill="#4ad4f2" stroke="#126a88" stroke-width="0.8"/>
<circle cx="248.57" cy="165.38" r="4.10" fill="#4ad4f2" stroke="#126a88" stroke-width="0.8"/>
<circle cx="251.75" cy="169.63" r="4.10" fill="#4ad4f2" stroke="#126a88" stroke-width="0.8"/>
<circle cx="254.94" cy="173.70" r="4.10" fill="#4ad4f2" stroke="#126a88" stroke-width="0.8"/>
<circle cx="258.12" cy="177.61" r="4.10" fill="#4ad4f2" stroke="#126a88" stroke-width="0.8"/>
<circle cx="261.30" cy="181.38" r="4.10" fill="#4ad4f2" stroke="#126a88" stroke-width="0.8"/>
<circle cx="264.49" cy="185.01" r="4.10" fill="#4ad4f2" stroke="#126a88" stroke-width="0.8"/>
<circle cx="267.67" cy="188.51" r="4.10" fill="#4ad4f2" stroke="#126a88" stroke-width="0.8"/>
<circle cx="270.86" cy="191.88" r="4.10" fill="#4ad4f2" stroke="#126a88" stroke-width="0.8"/>
<circle cx="274.04" cy="195.15" r="4.10" fill="#4ad4f2" stroke="#126a88" stroke-width="0.8"/>
<circle cx="277.22" cy="198.32" r="4.10" fill="#4ad4f2" stroke="#126a88" stroke-width="0.8"/>
<circle cx="280.41" cy="201.38" r="4.10" fill="#4ad4f2" stroke="#126a88" stroke-width="0.8"/>
<circle cx="283.59" cy="204.36" r="4.10" fill="#4ad4f2" stroke="#126a88" stroke-width="0.8"/>
<circle cx="286.78" cy="207.24" r="4.10" fill="#4ad4f2" stroke="#126a88" stroke-width="0.8"/>
<circle cx="289.96" cy="210.05" r="4.10" fill="#4ad4f2" stroke="#126a88" stroke-width="0.8"/>
<circle cx="293.14" cy="212.77" r="4.10" fill="#4ad4f2" stroke="#126a88" stroke-width="0.8"/>
<circle cx="296.33" cy="215.43" r="4.10" fill="#4ad4f2" stroke="#126a88" stroke-width="0.8"/>
<circle cx="299.51" cy="218.01" r="4.10" fill="#4ad4f2" stroke="#126a88" stroke-width="0.8"/>
<circle cx="302.70" cy="220.53" r="4.10" fill="#4ad4f2" stroke="#126a88" stroke-width="0.8"/>
<circle cx="305.88" cy="222.99" r="4.10" fill="#4ad4f2" stroke="#126a88" stroke-width="0.8"/>
<circle cx="309.06" cy="225.38" r="4.10" fill="#4ad4f2" stroke="#126a88" stroke-width="0.8"/>
<circle cx="312.25" cy="227.72" r="4.10" fill="#4ad4f2" stroke="#126a88" stroke-width="0.8"/>
<circle cx="315.43" cy="230.01" r="4.10" fill="#4ad4f2" stroke="#126a88" stroke-width="0.8"/>
<circle cx="318.62" cy="232.24" r="4.10" fill="#4ad4f2" stroke="#126a88" stroke-width="0.8"/>
<circle cx="321.80" cy="234.43" r="4.10" fill="#4ad4f2" stroke="#126a88" stroke-width="0.8"/>
<circle cx="324.98" cy="236.57" r="4.10" fill="#4ad4f2" stroke="#126a88" stroke-width="0.8"/>
<circle cx="328.17" cy="238.66" r="4.10" fill="#4ad4f2" stroke="#126a88" stroke-width="0.8"/>
<circle cx="331.35" cy="240.71" r="4.10" fill="#4ad4f2" stroke="#126a88" stroke-width="0.8"/>
<circle cx="334.54" cy="242.71" r="4.10" fill="#4ad4f2" stroke="#126a88" stroke-width="0.8"/>
<circle cx="337.72" cy="244.68" r="4.10" fill="#4ad4f2" stroke="#126a88" stroke-width="0.8"/>
<circle cx="340.90" cy="246.61" r="4.10" fill="#4ad4f2" stroke="#126a88" stroke-width="0.8"/>
<circle cx="344.09" cy="248.50" r="4.10" fill="#4ad4f2" stroke="#126a88" stroke-width="0.8"/>
<circle cx="347.27" cy="250.35" r="4.10" fill="#4ad4f2" stroke="#126a88" stroke-width="0.8"/>
<circle cx="350.46" cy="252.18" r="4.10" fill="#4ad4f2" stroke="#126a88" stroke-width="0.8"/>
<circle cx="353.64" cy="253.96" r="4.10" fill="#4ad4f2" stroke="#126a88" stroke-width="0.8"/>
<circle cx="356.82" cy="255.72" r="4.10" fill="#4ad4f2" stroke="#126a88" stroke-width="0.8"/>
<circle cx="360.01" cy="257.45" r="4.10" fill="#4ad4f2" stroke="#126a88" stroke-width="0.8"/>
<circle cx="363.19" cy="259.14" r="4.10" fill="#4ad4f2" stroke="#126a88" stroke-width="0.8"/>
<circle cx="366.38" cy="260.81" r="4.10" fill="#4ad4f2" stroke="#126a88" stroke-width="0.8"/>
<circle cx="369.56" cy="262.45" r="4.10" fill="#4ad4f2" stroke="#126a88" stroke-width="0.8"/>
<circle cx="372.74" cy="264.06" r="4.10" fill="#4ad4f2" stroke="#126a88" stroke-width="0.8"/>
<circle cx="375.93" cy="265.65" r="4.10" fill="#4ad4f2" stroke="#126a88" stroke-width="0.8"/>
<circle cx="379.11" cy="267.21" r="4.10" fill="#4ad4f2" stroke="#126a88" stroke-width="0.8"/>
<circle cx="382.30" cy="268.75" r="4.10" fill="#4ad4f2" stroke="#126a88" stroke-width="0.8"/>
<circle cx="385.48" cy="270.26" r="4.10" fill="#4ad4f2" stroke="#126a88" stroke-width="0.8"/>
<circle cx="388.66" cy="271.75" r="4.10" fill="#4ad4f2" stroke="#126a88" stroke-width="0.8"/>
<circle cx="391.85" cy="273.22" r="4.10" fill="#4ad4f2" stroke="#126a88" stroke-width="0.8"/>
<circle cx="395.03" cy="274.67" r="4.10" fill="#4ad4f2" stroke="#126a88" stroke-width="0.8"/>
<circle cx="398.22" cy="276.09" r="4.10" fill="#4ad4f2" stroke="#126a88" stroke-width="0.8"/>
<circle cx="401.40" cy="277.50" r="4.10" fill="#4ad4f2" stroke="#126a88" stroke-width="0.8"/>
<circle cx="404.58" cy="278.89" r="4.10" fill="#4ad4f2" stroke="#126a88" stroke-width="0.8"/>
<circle cx="407.77" cy="280.25" r="4.10" fill="#4ad4f2" stroke="#126a88" stroke-width="0.8"/>
<circle cx="410.95" cy="281.60" r="4.10" fill="#4ad4f2" stroke="#126a88" stroke-width="0.8"/>
<circle cx="414.14" cy="282.93" r="4.10" fill="#4ad4f2" stroke="#126a88" stroke-width="0.8"/>
<circle cx="417.32" cy="284.24" r="4.10" fill="#4ad4f2" stroke="#126a88" stroke-width="0.8"/>
<circle cx="420.50" cy="285.54" r="4.10" fill="#4ad4f2" stroke="#126a88" stroke-width="0.8"/>
<circle cx="423.69" cy="286.82" r="4.10" fill="#4ad4f2" stroke="#126a88" stroke-width="0.8"/>
<circle cx="426.87" cy="288.08" r="4.10" fill="#4ad4f2" stroke="#126a88" stroke-width="0.8"/>
<circle cx="430.06" cy="289.32" r="4.10" fill="#4ad4f2" stroke="#126a88" stroke-width="0.8"/>
<circle cx="433.24" cy="290.55" r="4.10" fill="#4ad4f2" stroke="#126a88" stroke-width="0.8"/>
<circle cx="436.42" cy="291.77" r="4.10" fill="#4ad4f2" stroke="#126a88" stroke-width="0.8"/>
<circle cx="439.61" cy="292.97" r="4.10" fill="#4ad4f2" stroke="#126a88" stroke-width="0.8"/>
<circle cx="442.79" cy="294.15" r="4.10" fill="#4ad4f2" stroke="#126a88" stroke-width="0.8"/>
<circle cx="445.98" cy="295.33" r="4.10" fill="#4ad4f2" stroke="#126a88" stroke-width="0.8"/>
<circle cx="449.16" cy="296.48" r="4.10" fill="#4ad4f2" stroke="#126a88" stroke-width="0.8"/>
<circle cx="452.34" cy="297.63" r="4.10" fill="#4ad4f2" stroke="#126a88" stroke-width="0.8"/>
<circle cx="455.53" cy="298.76" r="4.10" fill="#4ad4f2" stroke="#126a88" stroke-width="0.8"/>
<circle cx="458.71" cy="299.88" r="4.10" fill="#4ad4f2" stroke="#126a88" stroke-width="0.8"/>
<circle cx="461.90" cy="300.98" r="4.10" fill="#4ad4f2" stroke="#126a88" stroke-width="0.8"/>
<circle cx="465.08" cy="302.08" r="4.10" fill="#4ad4f2" stroke="#126a88" stroke-width="0.8"/>
<circle cx="468.26" cy="303.16" r="4.10" fill="#4ad4f2" stroke="#126a88" stroke-width="0.8"/>
<circle cx="471.45" cy="304.23" r="4.10" fill="#4ad4f2" stroke="#126a88" stroke-width="0.8"/>
<circle cx="474.63" cy="305.29" r="4.10" fill="#4ad4f2" stroke="#126a88" stroke-width="0.8"/>
<circle cx="477.82" cy="306.34" r="4.10" fill="#4ad4f2" stroke="#126a88" stroke-width="0.8"/>
<circle cx="481.00" cy="307.37" r="4.10" fill="#4ad4f2" stroke="#126a88" stroke-width="0.8"/>
<circle cx="484.18" cy="308.40" r="4.10" fill="#4ad4f2" stroke="#126a88" stroke-width="0.8"/>
<circle cx="487.37" cy="309.41" r="4.10" fill="#4ad4f2" stroke="#126a88" stroke-width="0.8"/>
<circle cx="490.55" cy="310.42" r="4.10" fill="#4ad4f2" stroke="#126a88" stroke-width="0.8"/>
<circle cx="493.74" cy="311.41" r="4.10" fill="#4ad4f2" stroke="#126a88" stroke-width="0.8"/>
</g>
<path d="M242.20,358.8V347.6M242.20,0.6V11.799999999999999M305.88,358.8V347.6M305.88,0.6V11.799999999999999M369.56,358.8V347.6M369.56,0.6V11.799999999999999M433.24,358.8V347.6M433.24,0.6V11.799999999999999M496.92,358.8V347.6M496.92,0.6V11.799999999999999M258.12,358.8V353.0M258.12,0.6V6.3999999999999995M274.04,358.8V353.0M274.04,0.6V6.3999999999999995M289.96,358.8V353.0M289.96,0.6V6.3999999999999995M321.80,358.8V353.0M321.80,0.6V6.3999999999999995M337.72,358.8V353.0M337.72,0.6V6.3999999999999995M353.64,358.8V353.0M353.64,0.6V6.3999999999999995M385.48,358.8V353.0M385.48,0.6V6.3999999999999995M401.40,358.8V353.0M401.40,0.6V6.3999999999999995M417.32,358.8V353.0M417.32,0.6V6.3999999999999995M449.16,358.8V353.0M449.16,0.6V6.3999999999999995M465.08,358.8V353.0M465.08,0.6V6.3999999999999995M481.00,358.8V353.0M481.00,0.6V6.3999999999999995M229.6,358.40H240.6M509.2,358.40H498.2M229.6,341.34H235.2M509.2,341.34H503.59999999999997M229.6,331.36H235.2M509.2,331.36H503.59999999999997M229.6,324.28H235.2M509.2,324.28H503.59999999999997M229.6,318.78H235.2M509.2,318.78H503.59999999999997M229.6,314.29H235.2M509.2,314.29H503.59999999999997M229.6,310.50H235.2M509.2,310.50H503.59999999999997M229.6,307.21H235.2M509.2,307.21H503.59999999999997M229.6,304.31H235.2M509.2,304.31H503.59999999999997M229.6,301.72H240.6M509.2,301.72H498.2M229.6,284.66H235.2M509.2,284.66H503.59999999999997M229.6,274.68H235.2M509.2,274.68H503.59999999999997M229.6,267.60H235.2M509.2,267.60H503.59999999999997M229.6,262.10H235.2M509.2,262.10H503.59999999999997M229.6,257.61H235.2M509.2,257.61H503.59999999999997M229.6,253.82H235.2M509.2,253.82H503.59999999999997M229.6,250.53H235.2M509.2,250.53H503.59999999999997M229.6,247.63H235.2M509.2,247.63H503.59999999999997M229.6,245.04H240.6M509.2,245.04H498.2M229.6,227.98H235.2M509.2,227.98H503.59999999999997M229.6,218.00H235.2M509.2,218.00H503.59999999999997M229.6,210.92H235.2M509.2,210.92H503.59999999999997M229.6,205.42H235.2M509.2,205.42H503.59999999999997M229.6,200.93H235.2M509.2,200.93H503.59999999999997M229.6,197.14H235.2M509.2,197.14H503.59999999999997M229.6,193.85H235.2M509.2,193.85H503.59999999999997M229.6,190.95H235.2M509.2,190.95H503.59999999999997M229.6,188.36H240.6M509.2,188.36H498.2M229.6,171.30H235.2M509.2,171.30H503.59999999999997M229.6,161.32H235.2M509.2,161.32H503.59999999999997M229.6,154.24H235.2M509.2,154.24H503.59999999999997M229.6,148.74H235.2M509.2,148.74H503.59999999999997M229.6,144.25H235.2M509.2,144.25H503.59999999999997M229.6,140.46H235.2M509.2,140.46H503.59999999999997M229.6,137.17H235.2M509.2,137.17H503.59999999999997M229.6,134.27H235.2M509.2,134.27H503.59999999999997M229.6,131.68H240.6M509.2,131.68H498.2M229.6,114.62H235.2M509.2,114.62H503.59999999999997M229.6,104.64H235.2M509.2,104.64H503.59999999999997M229.6,97.56H235.2M509.2,97.56H503.59999999999997M229.6,92.06H235.2M509.2,92.06H503.59999999999997M229.6,87.57H235.2M509.2,87.57H503.59999999999997M229.6,83.78H235.2M509.2,83.78H503.59999999999997M229.6,80.49H235.2M509.2,80.49H503.59999999999997M229.6,77.59H235.2M509.2,77.59H503.59999999999997M229.6,75.00H240.6M509.2,75.00H498.2M229.6,57.94H235.2M509.2,57.94H503.59999999999997M229.6,47.96H235.2M509.2,47.96H503.59999999999997M229.6,40.88H235.2M509.2,40.88H503.59999999999997M229.6,35.38H235.2M509.2,35.38H503.59999999999997M229.6,30.89H235.2M509.2,30.89H503.59999999999997M229.6,27.10H235.2M509.2,27.10H503.59999999999997M229.6,23.81H235.2M509.2,23.81H503.59999999999997M229.6,20.91H235.2M509.2,20.91H503.59999999999997M229.6,18.32H240.6M509.2,18.32H498.2" stroke="#222" stroke-width="1.1" fill="none"/>
<rect x="229.6" y="0.6" width="279.6" height="358.2" fill="none" stroke="#333" stroke-width="1.3"/>
<text transform="translate(232.72,375.20) scale(0.1462,0.1405)" style="font-family:'DejaVu Serif',serif;font-weight:normal;font-style:normal;font-size:100px" fill="#222">20</text>
<text transform="translate(296.65,375.20) scale(0.1462,0.1405)" style="font-family:'DejaVu Serif',serif;font-weight:normal;font-style:normal;font-size:100px" fill="#222">40</text>
<text transform="translate(360.08,375.20) scale(0.1462,0.1405)" style="font-family:'DejaVu Serif',serif;font-weight:normal;font-style:normal;font-size:100px" fill="#222">60</text>
<text transform="translate(423.76,375.20) scale(0.1462,0.1405)" style="font-family:'DejaVu Serif',serif;font-weight:normal;font-style:normal;font-size:100px" fill="#222">80</text>
<text transform="translate(482.36,375.20) scale(0.1462,0.1405)" style="font-family:'DejaVu Serif',serif;font-weight:normal;font-style:normal;font-size:100px" fill="#222">100</text>
<text transform="translate(198.86,363.85) scale(0.1497,0.1439)" style="font-family:'DejaVu Serif',serif;font-weight:normal;font-style:normal;font-size:100px" fill="#222">10</text>
<text transform="translate(218.24,358.95) scale(0.1012,0.0973)" style="font-family:'DejaVu Serif',serif;font-weight:normal;font-style:normal;font-size:100px" fill="#222">0</text>
<text transform="translate(198.86,307.17) scale(0.1497,0.1439)" style="font-family:'DejaVu Serif',serif;font-weight:normal;font-style:normal;font-size:100px" fill="#222">10</text>
<text transform="translate(217.69,302.27) scale(0.1012,0.0973)" style="font-family:'DejaVu Serif',serif;font-weight:normal;font-style:normal;font-size:100px" fill="#222">1</text>
<text transform="translate(198.86,250.49) scale(0.1497,0.1439)" style="font-family:'DejaVu Serif',serif;font-weight:normal;font-style:normal;font-size:100px" fill="#222">10</text>
<text transform="translate(218.24,245.59) scale(0.1012,0.0973)" style="font-family:'DejaVu Serif',serif;font-weight:normal;font-style:normal;font-size:100px" fill="#222">2</text>
<text transform="translate(198.86,193.81) scale(0.1497,0.1439)" style="font-family:'DejaVu Serif',serif;font-weight:normal;font-style:normal;font-size:100px" fill="#222">10</text>
<text transform="translate(218.14,188.91) scale(0.1012,0.0973)" style="font-family:'DejaVu Serif',serif;font-weight:normal;font-style:normal;font-size:100px" fill="#222">3</text>
<text transform="translate(198.86,137.13) scale(0.1497,0.1439)" style="font-family:'DejaVu Serif',serif;font-weight:normal;font-style:normal;font-size:100px" fill="#222">10</text>
<text transform="translate(218.60,132.23) scale(0.1012,0.0973)" style="font-family:'DejaVu Serif',serif;font-weight:normal;font-style:normal;font-size:100px" fill="#222">4</text>
<text transform="translate(198.86,80.45) scale(0.1497,0.1439)" style="font-family:'DejaVu Serif',serif;font-weight:normal;font-style:normal;font-size:100px" fill="#222">10</text>
<text transform="translate(218.03,75.55) scale(0.1026,0.0986)" style="font-family:'DejaVu Serif',serif;font-weight:normal;font-style:normal;font-size:100px" fill="#222">5</text>
<text transform="translate(198.86,23.77) scale(0.1497,0.1439)" style="font-family:'DejaVu Serif',serif;font-weight:normal;font-style:normal;font-size:100px" fill="#222">10</text>
<text transform="translate(218.24,18.87) scale(0.1012,0.0973)" style="font-family:'DejaVu Serif',serif;font-weight:normal;font-style:normal;font-size:100px" fill="#222">6</text>
<text x="0" y="0" transform="translate(190.5,180.5) rotate(-90)" style="font-family:'DejaVu Serif',serif;font-size:14px" text-anchor="middle" fill="#222">Frequency (MHz)</text>
<text x="265.5" y="394.6" style="font-family:'DejaVu Serif',serif;font-size:14px" fill="#222">Principal quanum number <tspan style="font-family:'DejaVu Sans',sans-serif;font-style:italic">n</tspan><tspan style="font-family:'DejaVu Sans',sans-serif;font-style:italic;font-size:10px" dy="3">s</tspan></text>
<rect x="287.5" y="8.8" width="215.5" height="66.2" rx="3" fill="#fff" fill-opacity="0.8" stroke="#ccc" stroke-width="1"/>
<circle cx="307.00" cy="20.80" r="5.80" fill="#c8001c" stroke="#2a0008" stroke-width="0.8"/>
<circle cx="307.00" cy="42.20" r="6.45" fill="#ee6a10" stroke="#6a2a04" stroke-width="0.8"/>
<circle cx="307.00" cy="63.60" r="4.25" fill="#4ad4f2" stroke="#126a88" stroke-width="0.8"/>
<path d="M422.50,15.50L428.50,27.50L416.50,27.50Z" fill="#4b1682" stroke="#140428" stroke-width="0.8"/>
<path d="M422.50,35.90L428.90,48.70L416.10,48.70Z" fill="#3c6ed8" stroke="#122468" stroke-width="0.8"/>
<path d="M422.50,58.80L427.00,67.80L418.00,67.80Z" fill="#22a034" stroke="#084010" stroke-width="0.8"/>
<text transform="translate(333.37,25.40) scale(0.1320,0.1257)" style="font-family:'DejaVu Serif',serif;font-weight:normal;font-style:normal;font-size:100px" fill="#222">Cs</text>
<text transform="translate(356.01,25.40) scale(0.1317,0.1266)" style="font-family:'DejaVu Sans',sans-serif;font-weight:normal;font-style:italic;font-size:100px" fill="#222">ν</text>
<text transform="translate(363.54,27.30) scale(0.1013,0.0974)" style="font-family:'DejaVu Sans',sans-serif;font-weight:normal;font-style:italic;font-size:100px" fill="#222">d</text>
<text transform="translate(333.37,46.80) scale(0.1320,0.1257)" style="font-family:'DejaVu Serif',serif;font-weight:normal;font-style:normal;font-size:100px" fill="#222">Cs</text>
<text transform="translate(356.01,46.80) scale(0.1317,0.1266)" style="font-family:'DejaVu Sans',sans-serif;font-weight:normal;font-style:italic;font-size:100px" fill="#222">ν</text>
<text transform="translate(364.51,49.20) scale(0.0929,0.0893)" style="font-family:'DejaVu Sans',sans-serif;font-weight:normal;font-style:italic;font-size:100px" fill="#222">s</text>
<text transform="translate(333.37,67.50) scale(0.1320,0.1257)" style="font-family:'DejaVu Serif',serif;font-weight:normal;font-style:normal;font-size:100px" fill="#222">Cs</text>
<text transform="translate(356.57,67.50) scale(0.1261,0.1212)" style="font-family:'DejaVu Sans',sans-serif;font-weight:normal;font-style:normal;font-size:100px" fill="#222">Δ</text>
<text transform="translate(364.51,67.50) scale(0.1317,0.1266)" style="font-family:'DejaVu Sans',sans-serif;font-weight:normal;font-style:italic;font-size:100px" fill="#222">ν</text>
<text transform="translate(373.01,69.90) scale(0.0929,0.0893)" style="font-family:'DejaVu Sans',sans-serif;font-weight:normal;font-style:italic;font-size:100px" fill="#222">s</text>
<text transform="translate(449.29,25.40) scale(0.1285,0.1224)" style="font-family:'DejaVu Serif',serif;font-weight:normal;font-style:normal;font-size:100px" fill="#222">Rb</text>
<text transform="translate(473.31,25.40) scale(0.1317,0.1266)" style="font-family:'DejaVu Sans',sans-serif;font-weight:normal;font-style:italic;font-size:100px" fill="#222">ν</text>
<text transform="translate(480.84,27.30) scale(0.1013,0.0974)" style="font-family:'DejaVu Sans',sans-serif;font-weight:normal;font-style:italic;font-size:100px" fill="#222">d</text>
<text transform="translate(449.29,46.80) scale(0.1285,0.1224)" style="font-family:'DejaVu Serif',serif;font-weight:normal;font-style:normal;font-size:100px" fill="#222">Rb</text>
<text transform="translate(473.31,46.80) scale(0.1317,0.1266)" style="font-family:'DejaVu Sans',sans-serif;font-weight:normal;font-style:italic;font-size:100px" fill="#222">ν</text>
<text transform="translate(481.81,49.20) scale(0.0929,0.0893)" style="font-family:'DejaVu Sans',sans-serif;font-weight:normal;font-style:italic;font-size:100px" fill="#222">s</text>
<text transform="translate(449.29,67.50) scale(0.1285,0.1224)" style="font-family:'DejaVu Serif',serif;font-weight:normal;font-style:normal;font-size:100px" fill="#222">Rb</text>
<text transform="translate(474.07,67.50) scale(0.1261,0.1212)" style="font-family:'DejaVu Sans',sans-serif;font-weight:normal;font-style:normal;font-size:100px" fill="#222">Δ</text>
<text transform="translate(482.01,67.50) scale(0.1317,0.1266)" style="font-family:'DejaVu Sans',sans-serif;font-weight:normal;font-style:italic;font-size:100px" fill="#222">ν</text>
<text transform="translate(490.51,69.90) scale(0.0929,0.0893)" style="font-family:'DejaVu Sans',sans-serif;font-weight:normal;font-style:italic;font-size:100px" fill="#222">s</text>
<text stroke="#1a1a1a" stroke-width="3.6" transform="translate(7.53,13.74) scale(0.1283,0.1551)" style="font-family:'Liberation Sans',sans-serif;font-weight:normal;font-style:normal;font-size:100px" fill="#1a1a1a">(</text>
<text stroke="#1a1a1a" stroke-width="3.6" transform="translate(13.05,13.18) scale(0.1126,0.1200)" style="font-family:'Liberation Sans',sans-serif;font-weight:normal;font-style:normal;font-size:100px" fill="#1a1a1a">a</text>
<text stroke="#1a1a1a" stroke-width="3.6" transform="translate(21.04,13.74) scale(0.1283,0.1551)" style="font-family:'Liberation Sans',sans-serif;font-weight:normal;font-style:normal;font-size:100px" fill="#1a1a1a">)</text>
<text stroke="#1a1a1a" stroke-width="3.6" transform="translate(149.33,13.39) scale(0.1283,0.1529)" style="font-family:'Liberation Sans',sans-serif;font-weight:normal;font-style:normal;font-size:100px" fill="#1a1a1a">(</text>
<text stroke="#1a1a1a" stroke-width="3.6" transform="translate(154.82,13.35) scale(0.1356,0.1469)" style="font-family:'Liberation Sans',sans-serif;font-weight:normal;font-style:normal;font-size:100px" fill="#1a1a1a">b</text>
<text stroke="#1a1a1a" stroke-width="3.6" transform="translate(163.84,13.39) scale(0.1283,0.1529)" style="font-family:'Liberation Sans',sans-serif;font-weight:normal;font-style:normal;font-size:100px" fill="#1a1a1a">)</text>
<text stroke="#1a1a1a" stroke-width="3.6" transform="translate(12.63,406.09) scale(0.1283,0.1529)" style="font-family:'Liberation Sans',sans-serif;font-weight:normal;font-style:normal;font-size:100px" fill="#1a1a1a">(</text>
<text stroke="#1a1a1a" stroke-width="3.6" transform="translate(18.49,406.17) scale(0.1264,0.1291)" style="font-family:'Liberation Sans',sans-serif;font-weight:normal;font-style:normal;font-size:100px" fill="#1a1a1a">c</text>
<text stroke="#1a1a1a" stroke-width="3.6" transform="translate(26.34,406.09) scale(0.1283,0.1529)" style="font-family:'Liberation Sans',sans-serif;font-weight:normal;font-style:normal;font-size:100px" fill="#1a1a1a">)</text>
<g stroke="#111" stroke-width="2.2">
<line x1="57.7" y1="38.9" x2="93" y2="38.9"/>
<line x1="92.5" y1="109.9" x2="127.8" y2="109.9"/>
<line x1="127.8" y1="74.4" x2="162.2" y2="74.4"/>
<line x1="57.7" y1="232.3" x2="93" y2="232.3"/>
<line x1="57.7" y1="365" x2="93" y2="365"/>
</g>
<line x1="74.60" y1="45.70" x2="74.60" y2="225.40" stroke="#4270bc" stroke-width="2.0"/><path d="M74.60,40.50L71.60,47.00L77.60,47.00Z" fill="#4270bc"/><path d="M74.60,230.60L71.60,224.10L77.60,224.10Z" fill="#4270bc"/>
<line x1="75.20" y1="239.20" x2="75.20" y2="358.30" stroke="#b0162e" stroke-width="2.0"/><path d="M75.20,234.00L72.20,240.50L78.20,240.50Z" fill="#b0162e"/><path d="M75.20,363.50L72.20,357.00L78.20,357.00Z" fill="#b0162e"/>
<line x1="81.41" y1="45.75" x2="106.69" y2="102.85" stroke="#34105e" stroke-width="2.0"/><path d="M79.30,41.00L79.19,48.16L84.68,45.73Z" fill="#34105e"/><path d="M108.80,107.60L103.42,102.87L108.91,100.44Z" fill="#34105e"/>
<line x1="114.64" y1="104.10" x2="140.96" y2="80.10" stroke="#e07a22" stroke-width="2.0"/><path d="M110.80,107.60L117.62,105.44L113.58,101.00Z" fill="#e07a22"/><path d="M144.80,76.60L142.02,83.20L137.98,78.76Z" fill="#e07a22"/>
<text transform="translate(-0.72,44.20) scale(0.1883,0.1670)" style="font-family:'Liberation Serif',serif;font-weight:bold;font-style:normal;font-size:100px" fill="#111">n</text>
<text transform="translate(10.50,47.80) scale(0.1386,0.1360)" style="font-family:'Liberation Serif',serif;font-weight:bold;font-style:normal;font-size:100px" fill="#111">d</text>
<text transform="translate(20.56,44.20) scale(0.1909,0.1824)" style="font-family:'Liberation Serif',serif;font-weight:bold;font-style:normal;font-size:100px" fill="#111">D</text>
<text transform="translate(34.78,49.60) scale(0.1107,0.1236)" style="font-family:'DejaVu Serif',serif;font-weight:bold;font-style:normal;font-size:100px" fill="#111">3</text>
<text transform="translate(50.15,49.60) scale(0.1074,0.1236)" style="font-family:'DejaVu Serif',serif;font-weight:bold;font-style:normal;font-size:100px" fill="#111">2</text>
<text transform="translate(87.55,126.00) scale(0.1592,0.1606)" style="font-family:'Liberation Serif',serif;font-weight:bold;font-style:normal;font-size:100px" fill="#111">n</text>
<text transform="translate(97.02,128.40) scale(0.1433,0.1330)" style="font-family:'Liberation Serif',serif;font-weight:bold;font-style:normal;font-size:100px" fill="#111">s</text>
<text transform="translate(103.89,126.10) scale(0.1764,0.1580)" style="font-family:'Liberation Serif',serif;font-weight:bold;font-style:normal;font-size:100px" fill="#111">F</text>
<text transform="translate(116.59,130.80) scale(0.0944,0.0993)" style="font-family:'DejaVu Serif',serif;font-weight:bold;font-style:normal;font-size:100px" fill="#111">5</text>
<text transform="translate(131.69,130.80) scale(0.1019,0.0980)" style="font-family:'DejaVu Serif',serif;font-weight:bold;font-style:normal;font-size:100px" fill="#111">2</text>
<text transform="translate(121.14,64.50) scale(0.1650,0.1543)" style="font-family:'Liberation Serif',serif;font-weight:bold;font-style:normal;font-size:100px" fill="#111">n</text>
<text transform="translate(131.39,67.30) scale(0.1522,0.1330)" style="font-family:'Liberation Serif',serif;font-weight:bold;font-style:normal;font-size:100px" fill="#111">s</text>
<text transform="translate(138.39,64.60) scale(0.1714,0.1689)" style="font-family:'Liberation Serif',serif;font-weight:bold;font-style:normal;font-size:100px" fill="#111">G</text>
<text transform="translate(152.34,68.80) scale(0.1009,0.1103)" style="font-family:'DejaVu Serif',serif;font-weight:bold;font-style:normal;font-size:100px" fill="#111">7</text>
<text transform="translate(168.99,68.80) scale(0.1019,0.1088)" style="font-family:'DejaVu Serif',serif;font-weight:bold;font-style:normal;font-size:100px" fill="#111">2</text>
<text transform="translate(10.69,232.40) scale(0.1895,0.1611)" style="font-family:'Liberation Serif',serif;font-weight:bold;font-style:normal;font-size:100px" fill="#111">5P</text>
<text transform="translate(32.81,237.80) scale(0.1116,0.1236)" style="font-family:'DejaVu Serif',serif;font-weight:bold;font-style:normal;font-size:100px" fill="#111">1</text>
<text transform="translate(48.40,237.80) scale(0.1148,0.1236)" style="font-family:'DejaVu Serif',serif;font-weight:bold;font-style:normal;font-size:100px" fill="#111">2</text>
<text transform="translate(13.04,368.00) scale(0.1774,0.1644)" style="font-family:'Liberation Serif',serif;font-weight:bold;font-style:normal;font-size:100px" fill="#111">5S</text>
<text transform="translate(32.81,373.40) scale(0.1116,0.1236)" style="font-family:'DejaVu Serif',serif;font-weight:bold;font-style:normal;font-size:100px" fill="#111">1</text>
<text transform="translate(48.40,373.40) scale(0.1148,0.1236)" style="font-family:'DejaVu Serif',serif;font-weight:bold;font-style:normal;font-size:100px" fill="#111">2</text>
<line x1="48.9" y1="38.6" x2="43.4" y2="52.6" stroke="#222" stroke-width="1.05"/>
<line x1="130.4" y1="121.6" x2="124.2" y2="134.0" stroke="#222" stroke-width="1.05"/>
<line x1="167.6" y1="58.8" x2="160.2" y2="72.6" stroke="#222" stroke-width="1.05"/>
<line x1="46.6" y1="226.6" x2="40.6" y2="241.2" stroke="#222" stroke-width="1.05"/>
<line x1="46.6" y1="362.2" x2="40.6" y2="376.8" stroke="#222" stroke-width="1.05"/>
<text transform="translate(99.39,73.20) scale(0.1890,0.1863)" style="font-family:'Liberation Serif',serif;font-weight:normal;font-style:normal;font-size:100px" fill="#50306e">d</text>
<text transform="translate(61.35,144.80) scale(0.2000,0.2011)" style="font-family:'Liberation Serif',serif;font-weight:normal;font-style:normal;font-size:100px" fill="#42609c">c</text>
<text transform="translate(59.73,303.70) scale(0.2157,0.1862)" style="font-family:'Liberation Serif',serif;font-weight:normal;font-style:normal;font-size:100px" fill="#922040">p</text>
<text transform="translate(134.05,102.30) scale(0.1995,0.1773)" style="font-family:'Liberation Serif',serif;font-weight:normal;font-style:normal;font-size:100px" fill="#c47040">LO, s</text>
<defs>
<linearGradient id="board" x1="140" y1="0" x2="479" y2="0" gradientUnits="userSpaceOnUse">
<stop offset="0" stop-color="#f8c274"/><stop offset="0.3" stop-color="#f6b356"/><stop offset="0.6" stop-color="#f4982e"/><stop offset="1" stop-color="#f27c16"/>
</linearGradient>
<linearGradient id="glass" x1="300" y1="440.2" x2="294.3" y2="486.0" gradientUnits="userSpaceOnUse">
<stop offset="0" stop-color="#8a8a84" stop-opacity="0.95"/>
<stop offset="0.03" stop-color="#b2b6b4" stop-opacity="0.9"/>
<stop offset="0.24" stop-color="#b8bcba" stop-opacity="0.9"/>
<stop offset="0.30" stop-color="#d4d8d6" stop-opacity="0.88"/>
<stop offset="0.62" stop-color="#d8dcdc" stop-opacity="0.88"/>
<stop offset="0.68" stop-color="#bcd4e6" stop-opacity="0.88"/>
<stop offset="0.80" stop-color="#b2cce4" stop-opacity="0.9"/>
<stop offset="0.90" stop-color="#cadcec" stop-opacity="0.9"/>
<stop offset="0.97" stop-color="#b4c8d8" stop-opacity="0.92"/>
<stop offset="1" stop-color="#7890a4" stop-opacity="0.95"/>
</linearGradient>
<linearGradient id="hornface" x1="0" y1="0" x2="0" y2="1">
<stop offset="0" stop-color="#3a1264"/><stop offset="0.5" stop-color="#4a1c7a"/><stop offset="0.78" stop-color="#6c3ca2"/><stop offset="1" stop-color="#3a1266"/></linearGradient>
<linearGradient id="hside" x1="0" y1="0" x2="0" y2="1">
<stop offset="0" stop-color="#56268a"/><stop offset="1" stop-color="#6a36a2"/></linearGradient>
<linearGradient id="pdg" x1="0" y1="0" x2="0" y2="1">
<stop offset="0" stop-color="#8a8a8a"/><stop offset="0.4" stop-color="#777"/><stop offset="1" stop-color="#5a5a5a"/></linearGradient>
</defs>
<path d="M140.8,410.80 L477.4,454.96 L478.6,495.51 L140.8,452.20 Z" fill="url(#board)"/>
<path d="M140.8,410.80 L477.4,454.96" stroke="#6a3a14" stroke-width="1.3" fill="none"/>
<path d="M477.4,454.96 L478.6,495.51" stroke="#c85a10" stroke-width="0.8" fill="none"/>
<path d="M151.5,412.2 V431.5 M158.5,413.1 V432.3 M151.5,431.5 L190,436.2" stroke="#8a5a28" stroke-width="0.8" fill="none" opacity="0.75"/>
<path d="M460.3,452.7 V470.5 M467.2,453.6 V474.5 M426,467.4 L460.3,470.5" stroke="#8a4a18" stroke-width="0.8" fill="none" opacity="0.75"/>
<circle cx="147.8" cy="422" r="1.05" fill="#3a2010"/>
<circle cx="147.8" cy="431" r="1.05" fill="#3a2010"/>
<circle cx="162" cy="423.5" r="1.05" fill="#3a2010"/>
<circle cx="161.5" cy="428.2" r="1.05" fill="#3a2010"/>
<circle cx="177.2" cy="429.6" r="1.05" fill="#3a2010"/>
<circle cx="441.5" cy="466" r="1.05" fill="#3a2010"/>
<circle cx="456.5" cy="463" r="1.05" fill="#3a2010"/>
<circle cx="457" cy="467.7" r="1.05" fill="#3a2010"/>
<circle cx="470.9" cy="465.5" r="1.05" fill="#3a2010"/>
<circle cx="470.9" cy="474.3" r="1.05" fill="#3a2010"/>
<circle cx="431" cy="464.8" r="1.05" fill="#3a2010"/>
<path d="M157.9,436.03 L188,439.88 L188,444.28 L157.9,440.43 Z" fill="#2a5ac0" stroke="#1a3a8a" stroke-width="0.6"/>
<path d="M157.9,437.83 L188,441.68" stroke="#a4c8f6" stroke-width="1.2"/>
<path d="M147.3,435.97 L158.2,432.54 L158.2,441.74 Z" fill="#2252b6" stroke="#16307a" stroke-width="0.7"/>
<path d="M402,467.08 L457,474.02 L457,478.82 L402,471.68 Z" fill="#b0122c" stroke="#70081a" stroke-width="0.6"/>
<path d="M402,468.38 L457,475.42" stroke="#d83050" stroke-width="1"/>
<path d="M455.5,471.62 L467.4,477.95 L455.5,480.82 Z" fill="#9a0c24" stroke="#60061a" stroke-width="0.6"/>
<path d="M176.53,430.21 L176.55,429.85 L176.59,429.50 L176.66,429.17 L176.75,428.86 L176.87,428.56 L177.01,428.27 L177.17,428.01 L177.36,427.76 L177.58,427.52 L177.81,427.30 L178.07,427.10 L178.36,426.92 L178.66,426.75 L178.99,426.60 L179.34,426.47 L179.72,426.35 L180.12,426.25 L180.54,426.17 L180.98,426.11 L181.44,426.07 L181.92,426.04 L182.43,426.03 L182.95,426.04 L183.50,426.07 L184.06,426.11 L184.64,426.17 L430.12,456.26 L430.41,456.30 L430.67,456.35 L430.91,456.42 L431.13,456.51 L431.32,456.60 L431.48,456.71 L431.62,456.83 L431.74,456.97 L431.83,457.11 L431.90,457.27 L431.94,457.45 L431.95,457.63 L431.94,457.83 L431.91,458.04 L431.84,458.27 L431.76,458.50 L431.65,458.75 L431.51,459.00 L431.35,459.27 L431.16,459.56 L430.95,459.85 L430.72,460.15 L430.46,460.46 L430.17,460.79 L429.86,461.12 L429.53,461.47 L429.17,461.82 L428.79,462.19 L428.39,462.56 L427.96,462.94 L427.52,463.33 L427.04,463.73 L426.55,464.14 L426.04,464.56 L425.50,464.98 L424.95,465.41 L424.37,465.85 L423.77,466.30 L423.16,466.75 L422.52,467.21 L421.86,467.67 L421.19,468.14 L420.50,468.61 L419.79,469.09 L419.06,469.58 L418.32,470.07 L417.56,470.56 L416.79,471.06 L416.00,471.55 L415.20,472.06 L414.38,472.56 L413.55,473.07 L412.71,473.58 L411.85,474.09 L410.99,474.60 L410.11,475.11 L409.22,475.62 L408.32,476.14 L407.42,476.65 L406.50,477.16 L405.58,477.67 L404.65,478.18 L403.71,478.69 L402.77,479.20 L401.82,479.70 L400.87,480.20 L399.91,480.70 L398.95,481.19 L397.99,481.69 L397.02,482.17 L396.05,482.66 L395.09,483.13 L394.12,483.61 L393.15,484.07 L392.19,484.54 L391.22,484.99 L390.26,485.44 L389.31,485.89 L388.35,486.32 L387.40,486.75 L386.46,487.17 L385.52,487.59 L384.59,487.99 L383.66,488.39 L382.75,488.78 L381.84,489.16 L380.94,489.53 L380.05,489.89 L379.17,490.24 L378.30,490.58 L377.44,490.91 L376.60,491.23 L375.77,491.54 L374.95,491.84 L374.14,492.13 L373.35,492.41 L372.57,492.68 L371.81,492.93 L371.07,493.17 L370.34,493.41 L369.63,493.62 L368.93,493.83 L368.26,494.03 L367.60,494.21 L366.96,494.38 L366.34,494.53 L365.74,494.68 L365.16,494.81 L364.60,494.93 L364.06,495.03 L363.54,495.12 L363.04,495.20 L362.57,495.26 L362.12,495.32 L361.69,495.35 L361.28,495.38 L360.89,495.39 L360.53,495.39 L360.20,495.37 L359.88,495.34 L359.59,495.30 L239.15,477.55 L238.53,477.45 L237.89,477.34 L237.24,477.21 L236.56,477.06 L235.87,476.89 L235.17,476.71 L234.44,476.51 L233.70,476.29 L232.95,476.06 L232.19,475.80 L231.41,475.54 L230.61,475.25 L229.81,474.96 L228.99,474.64 L228.16,474.31 L227.32,473.96 L226.47,473.60 L225.61,473.23 L224.74,472.84 L223.86,472.43 L222.97,472.01 L222.08,471.58 L221.18,471.13 L220.27,470.67 L219.36,470.20 L218.44,469.72 L217.52,469.22 L216.59,468.71 L215.66,468.19 L214.73,467.66 L213.80,467.12 L212.87,466.56 L211.93,466.00 L211.00,465.43 L210.07,464.85 L209.14,464.26 L208.21,463.66 L207.28,463.05 L206.36,462.44 L205.44,461.81 L204.52,461.18 L203.61,460.55 L202.71,459.91 L201.81,459.26 L200.92,458.61 L200.04,457.95 L199.17,457.29 L198.30,456.63 L197.45,455.96 L196.60,455.29 L195.77,454.62 L194.94,453.94 L194.13,453.27 L193.33,452.59 L192.55,451.91 L191.78,451.24 L191.02,450.56 L190.27,449.89 L189.54,449.21 L188.83,448.54 L188.13,447.87 L187.45,447.20 L186.79,446.54 L186.14,445.88 L185.51,445.22 L184.90,444.57 L184.31,443.92 L183.74,443.28 L183.18,442.64 L182.65,442.01 L182.14,441.39 L181.65,440.78 L181.17,440.17 L180.72,439.57 L180.29,438.98 L179.89,438.40 L179.50,437.82 L179.14,437.26 L178.80,436.71 L178.48,436.16 L178.19,435.63 L177.92,435.11 L177.67,434.60 L177.45,434.10 L177.25,433.62 L177.08,433.15 L176.93,432.69 L176.80,432.24 L176.70,431.81 L176.62,431.39 L176.56,430.98 L176.53,430.59 Z" fill="url(#glass)" stroke="#80807a" stroke-width="0.8"/>
<circle cx="191.8" cy="432.3" r="1.1" fill="#5a5a58"/>
<circle cx="206.5" cy="434.2" r="1.1" fill="#5a5a58"/>
<circle cx="221.2" cy="436.0" r="1.1" fill="#5a5a58"/>
<circle cx="235.9" cy="437.9" r="1.1" fill="#5a5a58"/>
<circle cx="250.6" cy="439.8" r="1.1" fill="#5a5a58"/>
<circle cx="265.3" cy="441.7" r="1.1" fill="#5a5a58"/>
<circle cx="280.0" cy="443.6" r="1.1" fill="#5a5a58"/>
<circle cx="294.7" cy="445.4" r="1.1" fill="#5a5a58"/>
<circle cx="309.4" cy="447.3" r="1.1" fill="#5a5a58"/>
<circle cx="324.1" cy="449.2" r="1.1" fill="#5a5a58"/>
<circle cx="338.8" cy="451.1" r="1.1" fill="#5a5a58"/>
<circle cx="353.5" cy="453.0" r="1.1" fill="#5a5a58"/>
<circle cx="368.2" cy="454.8" r="1.1" fill="#5a5a58"/>
<circle cx="382.9" cy="456.7" r="1.1" fill="#5a5a58"/>
<circle cx="397.6" cy="458.6" r="1.1" fill="#5a5a58"/>
<circle cx="412.3" cy="460.5" r="1.1" fill="#5a5a58"/>
<path d="M183,441.34 L418,471.42" stroke="#6474aa" stroke-width="5.6"/><rect x="183.50" y="439.01" width="3.4" height="4.8" fill="#c46894" transform="rotate(7.29 183.50 441.41)"/><rect x="187.85" y="439.56" width="3.4" height="4.8" fill="#a6c4e8" transform="rotate(7.29 187.85 441.96)"/><rect x="192.20" y="440.12" width="3.4" height="4.8" fill="#c46894" transform="rotate(7.29 192.20 442.52)"/><rect x="196.55" y="440.68" width="3.4" height="4.8" fill="#a6c4e8" transform="rotate(7.29 196.55 443.08)"/><rect x="200.90" y="441.24" width="3.4" height="4.8" fill="#c46894" transform="rotate(7.29 200.90 443.64)"/><rect x="205.25" y="441.79" width="3.4" height="4.8" fill="#a6c4e8" transform="rotate(7.29 205.25 444.19)"/><rect x="209.60" y="442.35" width="3.4" height="4.8" fill="#c46894" transform="rotate(7.29 209.60 444.75)"/><rect x="213.95" y="442.91" width="3.4" height="4.8" fill="#a6c4e8" transform="rotate(7.29 213.95 445.31)"/><rect x="218.30" y="443.46" width="3.4" height="4.8" fill="#c46894" transform="rotate(7.29 218.30 445.86)"/><rect x="222.65" y="444.02" width="3.4" height="4.8" fill="#a6c4e8" transform="rotate(7.29 222.65 446.42)"/><rect x="227.00" y="444.58" width="3.4" height="4.8" fill="#c46894" transform="rotate(7.29 227.00 446.98)"/><rect x="231.35" y="445.13" width="3.4" height="4.8" fill="#a6c4e8" transform="rotate(7.29 231.35 447.53)"/><rect x="235.70" y="445.69" width="3.4" height="4.8" fill="#c46894" transform="rotate(7.29 235.70 448.09)"/><rect x="240.05" y="446.25" width="3.4" height="4.8" fill="#a6c4e8" transform="rotate(7.29 240.05 448.65)"/><rect x="244.40" y="446.80" width="3.4" height="4.8" fill="#c46894" transform="rotate(7.29 244.40 449.20)"/><rect x="248.75" y="447.36" width="3.4" height="4.8" fill="#a6c4e8" transform="rotate(7.29 248.75 449.76)"/><rect x="253.10" y="447.92" width="3.4" height="4.8" fill="#c46894" transform="rotate(7.29 253.10 450.32)"/><rect x="257.45" y="448.47" width="3.4" height="4.8" fill="#a6c4e8" transform="rotate(7.29 257.45 450.87)"/><rect x="261.80" y="449.03" width="3.4" height="4.8" fill="#c46894" transform="rotate(7.29 261.80 451.43)"/><rect x="266.15" y="449.59" width="3.4" height="4.8" fill="#a6c4e8" transform="rotate(7.29 266.15 451.99)"/><rect x="270.50" y="450.14" width="3.4" height="4.8" fill="#c46894" transform="rotate(7.29 270.50 452.54)"/><rect x="274.85" y="450.70" width="3.4" height="4.8" fill="#a6c4e8" transform="rotate(7.29 274.85 453.10)"/><rect x="279.20" y="451.26" width="3.4" height="4.8" fill="#c46894" transform="rotate(7.29 279.20 453.66)"/><rect x="283.55" y="451.81" width="3.4" height="4.8" fill="#a6c4e8" transform="rotate(7.29 283.55 454.21)"/><rect x="287.90" y="452.37" width="3.4" height="4.8" fill="#c46894" transform="rotate(7.29 287.90 454.77)"/><rect x="292.25" y="452.93" width="3.4" height="4.8" fill="#a6c4e8" transform="rotate(7.29 292.25 455.33)"/><rect x="296.60" y="453.48" width="3.4" height="4.8" fill="#c46894" transform="rotate(7.29 296.60 455.88)"/><rect x="300.95" y="454.04" width="3.4" height="4.8" fill="#a6c4e8" transform="rotate(7.29 300.95 456.44)"/><rect x="305.30" y="454.60" width="3.4" height="4.8" fill="#c46894" transform="rotate(7.29 305.30 457.00)"/><rect x="309.65" y="455.16" width="3.4" height="4.8" fill="#a6c4e8" transform="rotate(7.29 309.65 457.56)"/><rect x="314.00" y="455.71" width="3.4" height="4.8" fill="#c46894" transform="rotate(7.29 314.00 458.11)"/><rect x="318.35" y="456.27" width="3.4" height="4.8" fill="#a6c4e8" transform="rotate(7.29 318.35 458.67)"/><rect x="322.70" y="456.83" width="3.4" height="4.8" fill="#c46894" transform="rotate(7.29 322.70 459.23)"/><rect x="327.05" y="457.38" width="3.4" height="4.8" fill="#a6c4e8" transform="rotate(7.29 327.05 459.78)"/><rect x="331.40" y="457.94" width="3.4" height="4.8" fill="#c46894" transform="rotate(7.29 331.40 460.34)"/><rect x="335.75" y="458.50" width="3.4" height="4.8" fill="#a6c4e8" transform="rotate(7.29 335.75 460.90)"/><rect x="340.10" y="459.05" width="3.4" height="4.8" fill="#c46894" transform="rotate(7.29 340.10 461.45)"/><rect x="344.45" y="459.61" width="3.4" height="4.8" fill="#a6c4e8" transform="rotate(7.29 344.45 462.01)"/><rect x="348.80" y="460.17" width="3.4" height="4.8" fill="#c46894" transform="rotate(7.29 348.80 462.57)"/><rect x="353.15" y="460.72" width="3.4" height="4.8" fill="#a6c4e8" transform="rotate(7.29 353.15 463.12)"/><rect x="357.50" y="461.28" width="3.4" height="4.8" fill="#c46894" transform="rotate(7.29 357.50 463.68)"/><rect x="361.85" y="461.84" width="3.4" height="4.8" fill="#a6c4e8" transform="rotate(7.29 361.85 464.24)"/><rect x="366.20" y="462.39" width="3.4" height="4.8" fill="#c46894" transform="rotate(7.29 366.20 464.79)"/><rect x="370.55" y="462.95" width="3.4" height="4.8" fill="#a6c4e8" transform="rotate(7.29 370.55 465.35)"/><rect x="374.90" y="463.51" width="3.4" height="4.8" fill="#c46894" transform="rotate(7.29 374.90 465.91)"/><rect x="379.25" y="464.06" width="3.4" height="4.8" fill="#a6c4e8" transform="rotate(7.29 379.25 466.46)"/><rect x="383.60" y="464.62" width="3.4" height="4.8" fill="#c46894" transform="rotate(7.29 383.60 467.02)"/><rect x="387.95" y="465.18" width="3.4" height="4.8" fill="#a6c4e8" transform="rotate(7.29 387.95 467.58)"/><rect x="392.30" y="465.73" width="3.4" height="4.8" fill="#c46894" transform="rotate(7.29 392.30 468.13)"/><rect x="396.65" y="466.29" width="3.4" height="4.8" fill="#a6c4e8" transform="rotate(7.29 396.65 468.69)"/><rect x="401.00" y="466.85" width="3.4" height="4.8" fill="#c46894" transform="rotate(7.29 401.00 469.25)"/><rect x="405.35" y="467.40" width="3.4" height="4.8" fill="#a6c4e8" transform="rotate(7.29 405.35 469.80)"/><rect x="409.70" y="467.96" width="3.4" height="4.8" fill="#c46894" transform="rotate(7.29 409.70 470.36)"/><rect x="414.05" y="468.52" width="3.4" height="4.8" fill="#a6c4e8" transform="rotate(7.29 414.05 470.92)"/>
<ellipse cx="212.20" cy="451.90" rx="42.40" ry="12.0" transform="rotate(34.30 212.20 451.90)" fill="#c8d0d4" fill-opacity="0.08" stroke="#4a5256" stroke-width="1.1"/>
<ellipse cx="214.00" cy="451.10" rx="39.40" ry="9.4" transform="rotate(34.30 214.00 451.10)" fill="none" stroke="#5c666a" stroke-width="0.9"/>
<ellipse cx="395.00" cy="475.80" rx="41.30" ry="6.6" transform="rotate(-26.90 395.00 475.80)" fill="#c8d0d4" fill-opacity="0.08" stroke="#4a5256" stroke-width="1.1"/>
<ellipse cx="396.20" cy="476.00" rx="38.30" ry="4.4" transform="rotate(-26.90 396.20 476.00)" fill="none" stroke="#5c666a" stroke-width="0.9"/>
<path d="M48,425.6 L120.1,421.7 L113.5,437 L48,431.2 Z" fill="#2c0c4c"/>
<path d="M48,431.2 L113.5,437 L112,457.2 L48,436.6 Z" fill="url(#hside)"/>
<path d="M120.1,421.7 L121.2,442 L112,457.2 L113.5,437 Z" fill="#3a1462"/>
<path d="M114,439.2 L120.3,426.5 L120.8,441.5 Z" fill="#a88ad8"/>
<ellipse cx="44.2" cy="430.6" rx="5.6" ry="17.4" fill="#2e0e50"/>
<ellipse cx="41.4" cy="430.6" rx="5.6" ry="17.2" fill="url(#hornface)"/>
<path d="M67.8,471 H25 Q18.3,471 18.3,464.3 V439 Q18.3,432 25.3,432 H27" stroke="#461a78" stroke-width="2.6" fill="none"/>
<path d="M33.6,430.6 L25.2,425.3 L25.2,436.4 Z" fill="#461a78"/>
<rect x="70" y="458.7" width="23.3" height="26.8" rx="4" fill="#fff" stroke="#3e2a58" stroke-width="2.1"/>
<text transform="translate(76.30,479.20) scale(0.1846,0.1906)" style="font-family:'Liberation Serif',serif;font-weight:normal;font-style:normal;font-size:100px" fill="#503870">d</text>
<rect x="157" y="449" width="22.2" height="25.2" rx="4" fill="#f2f6ff" stroke="#4a64b0" stroke-width="2.0"/>
<text transform="translate(163.10,467.60) scale(0.2133,0.2117)" style="font-family:'Liberation Serif',serif;font-weight:normal;font-style:normal;font-size:100px" fill="#4a5a90">c</text>
<rect x="425.3" y="483" width="23" height="27.5" rx="4" fill="#fff" stroke="#a01838" stroke-width="2.2"/>
<text transform="translate(431.66,500.60) scale(0.1955,0.1904)" style="font-family:'Liberation Serif',serif;font-weight:normal;font-style:normal;font-size:100px" fill="#902040">p</text>
<rect x="423.9" y="406.9" width="59.2" height="27.8" rx="4" fill="#fff" stroke="#d08452" stroke-width="2.0"/>
<text transform="translate(431.25,427.50) scale(0.2009,0.1826)" style="font-family:'Liberation Serif',serif;font-weight:normal;font-style:normal;font-size:100px" fill="#c06838">LO, s</text>
<path d="M463.5,439.6 V446" stroke="#e0762a" stroke-width="1.8"/>
<path d="M459.8,445 L467.2,445 L463.5,452 Z" fill="#e0762a"/>
<rect x="481.2" y="440.4" width="36.8" height="27.9" rx="4" fill="#fff" stroke="#111" stroke-width="2.4"/>
<text transform="translate(487.89,460.60) scale(0.1876,0.1855)" style="font-family:'Liberation Serif',serif;font-weight:normal;font-style:normal;font-size:100px" fill="#111">PD</text>
<path d="M501.5,480.7 L516.6,482.5 M501.5,485.1 L514.2,486.8" stroke="#5a5a48" stroke-width="2.4" stroke-linecap="round"/>
<path d="M501.5,480.7 L516.6,482.5 M501.5,485.1 L514.2,486.8" stroke="#dcd4b2" stroke-width="1.2" stroke-linecap="round"/>
<path d="M488,473.8 L497.5,472.8 L497.5,491.4 L488,490.6 Q485.3,490.4 485.3,487 V477.4 Q485.3,474 488,473.8 Z" fill="#6c6c6c"/>
<path d="M487.2,474.6 Q486.2,482 487.2,490" stroke="#585858" stroke-width="1.6" fill="none"/>
<path d="M489,475.5 L496,474.8 L496,480 L489,480.6 Z" fill="#848484" opacity="0.5"/>
<path d="M496.6,474 Q499,472.4 501.9,474.6 L501.9,489 Q500,492 499.4,495.8 L497.4,495.8 L496.6,491.6 Z" fill="#444"/>
</svg></body></html>
